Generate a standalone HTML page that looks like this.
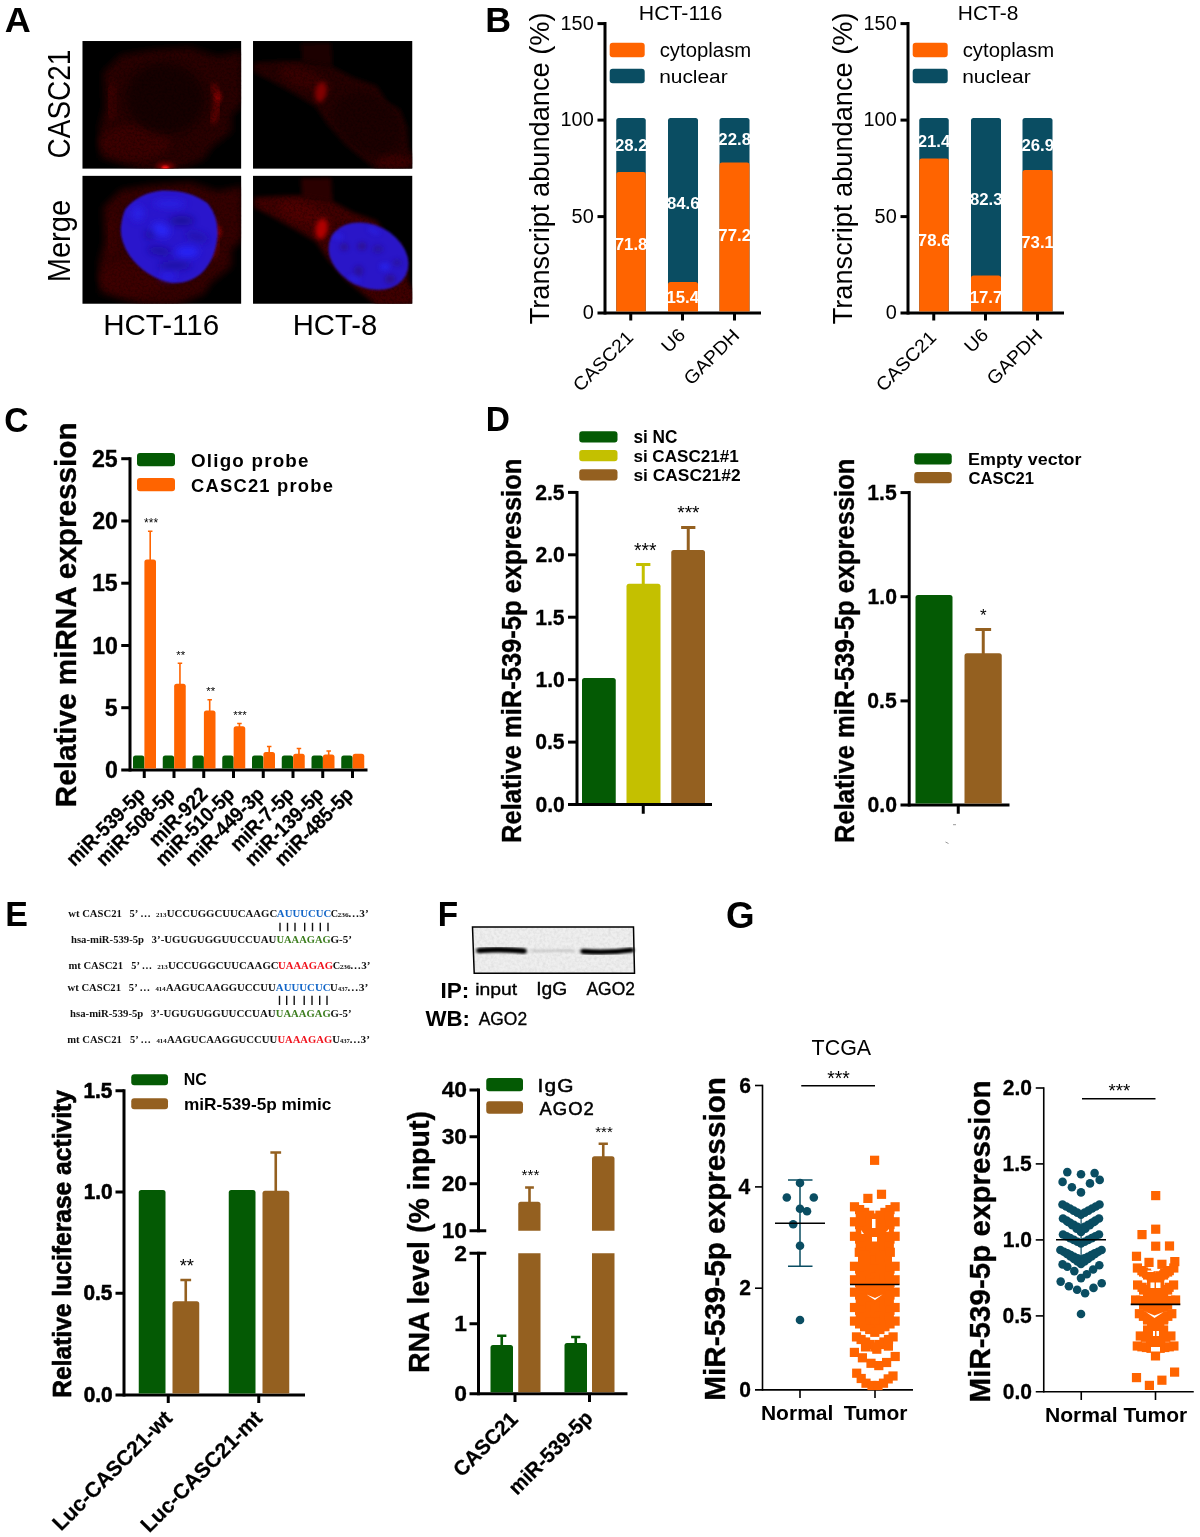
<!DOCTYPE html>
<html lang="en"><head><meta charset="utf-8"><title>Figure</title>
<style>html,body{margin:0;padding:0;background:#fff}svg{display:block}text{white-space:pre}</style></head>
<body><svg width="1200" height="1537" viewBox="0 0 1200 1537"><defs><filter id="b8" x="-30%" y="-30%" width="160%" height="160%"><feGaussianBlur stdDeviation="8"/></filter><filter id="b16" x="-30%" y="-30%" width="160%" height="160%"><feGaussianBlur stdDeviation="16"/></filter><filter id="b28" x="-40%" y="-40%" width="180%" height="180%"><feGaussianBlur stdDeviation="28"/></filter><filter id="grain" x="0" y="0" width="100%" height="100%"><feTurbulence type="fractalNoise" baseFrequency="0.06" numOctaves="2" seed="7"/><feColorMatrix type="matrix" values="0 0 0 0 0  0 0 0 0 0  0 0 0 0 0  1.6 0 0 0 -0.62"/><feComposite in2="SourceGraphic" operator="in"/></filter><clipPath id="cA1"><rect x="18" y="22" width="1154" height="928"/></clipPath><clipPath id="cA3"><rect x="18" y="28" width="1154" height="930"/></clipPath><clipPath id="cA2"><rect x="22" y="22" width="1158" height="928"/></clipPath><clipPath id="cA4"><rect x="22" y="28" width="1158" height="930"/></clipPath><filter id="bl1" x="-20%" y="-100%" width="140%" height="300%"><feGaussianBlur stdDeviation="1.6 1.3"/></filter><filter id="noise" x="0" y="0" width="100%" height="100%"><feTurbulence type="fractalNoise" baseFrequency="0.35" numOctaves="2" seed="4"/><feColorMatrix type="matrix" values="0 0 0 0 0.55  0 0 0 0 0.55  0 0 0 0 0.55  0.9 0.9 0 0 -0.72"/><feComposite in2="SourceGraphic" operator="in"/></filter></defs>
<rect width="1200" height="1537" fill="#fff"/>
<text transform="translate(4.78 32.00) scale(1.0147 1)" font-family='"Liberation Sans", sans-serif' font-size="35.51" font-weight="bold" fill="#000" >A</text>
<g transform="translate(80 38) scale(0.13750)"><rect x="18" y="22" width="1154" height="928" fill="#000"/><g clip-path="url(#cA1)"><path d="M170 250L300 125L520 90L800 70L1000 135L1180 100L1180 480L1100 560L1100 680L950 800L900 880L700 960L450 960L150 870L140 660L180 500Z" fill="#2a0000" filter="url(#b28)"/>
<ellipse cx="400" cy="760" rx="260" ry="130" fill="#400000" filter="url(#b28)" opacity="0.8"/>
<path d="M960 340Q1040 440 960 620" stroke="#580000" stroke-width="60" fill="none" filter="url(#b16)"/>
<ellipse cx="1005" cy="430" rx="22" ry="40" fill="#900000" filter="url(#b16)"/>
<path d="M250 330Q200 450 230 600" stroke="#3a0000" stroke-width="80" fill="none" filter="url(#b28)"/>
<ellipse cx="620" cy="440" rx="290" ry="260" fill="#190000" opacity="0.9" filter="url(#b28)" transform="rotate(12 620 440)"/><path d="M170 250L300 125L520 90L800 70L1000 135L1180 100L1180 480L1100 560L1100 680L950 800L900 880L700 960L450 960L150 870L140 660L180 500Z" fill="#000" filter="url(#grain)" opacity="0.5"/><ellipse cx="620" cy="935" rx="70" ry="30" fill="#700000" filter="url(#b16)"/><ellipse cx="620" cy="945" rx="26" ry="16" fill="#ff1818" filter="url(#b8)"/></g></g>
<g transform="translate(80 172) scale(0.13750)"><rect x="18" y="28" width="1154" height="930" fill="#000"/><g clip-path="url(#cA3)"><g transform="translate(0 6)"><path d="M170 250L300 125L520 90L800 70L1000 135L1180 100L1180 480L1100 560L1100 680L950 800L900 880L700 960L450 960L150 870L140 660L180 500Z" fill="#360000" filter="url(#b28)"/>
<ellipse cx="400" cy="760" rx="260" ry="130" fill="#400000" filter="url(#b28)" opacity="0.8"/>
<path d="M960 340Q1040 440 960 620" stroke="#580000" stroke-width="60" fill="none" filter="url(#b16)"/>
<ellipse cx="1005" cy="430" rx="22" ry="40" fill="#900000" filter="url(#b16)"/>
<path d="M250 330Q200 450 230 600" stroke="#3a0000" stroke-width="80" fill="none" filter="url(#b28)"/>
</g><path d="M170 250L300 125L520 90L800 70L1000 135L1180 100L1180 480L1100 560L1100 680L950 800L900 880L700 960L450 960L150 870L140 660L180 500Z" fill="#000" filter="url(#grain)" opacity="0.4" transform="translate(0 6)"/><path d="M330 270Q430 150 600 135Q800 130 930 230Q1010 330 1000 470Q985 640 880 740Q780 820 660 805Q480 770 360 610Q280 480 300 380Q310 310 330 270Z" fill="#2a16cc" filter="url(#b8)"/>
<g filter="url(#b28)" opacity="0.85"><ellipse cx="590" cy="420" rx="70" ry="45" fill="#2a2aff" transform="rotate(25 590 420)"/><ellipse cx="780" cy="580" rx="85" ry="40" fill="#2626ff"/><ellipse cx="650" cy="230" rx="120" ry="30" fill="#2b20e8"/><ellipse cx="420" cy="300" rx="50" ry="60" fill="#2b20e8"/><ellipse cx="640" cy="760" rx="60" ry="25" fill="#2a22f0"/>
<ellipse cx="740" cy="355" rx="90" ry="35" fill="#1c0e90"/><ellipse cx="510" cy="455" rx="35" ry="30" fill="#1c0e90"/><ellipse cx="580" cy="575" rx="90" ry="30" fill="#1d0f98" transform="rotate(10 580 575)"/><ellipse cx="690" cy="680" rx="120" ry="30" fill="#1e109c"/><ellipse cx="850" cy="470" rx="90" ry="30" fill="#2012a8" transform="rotate(15 850 470)"/></g></g></g>
<g transform="translate(250 38) scale(0.13750)"><rect x="22" y="22" width="1158" height="928" fill="#000"/><g clip-path="url(#cA2)"><path d="M380 170L370 40L590 35L600 210Z" fill="#1c0000" filter="url(#b16)"/><path d="M30 180L200 170L380 165L590 205L750 290L920 350L1000 470L1090 520L1140 650L1150 800L1190 850L1190 960L920 960L700 780L560 620L480 500L330 410L150 310L30 250Z" fill="#260000" filter="url(#b16)"/>
<ellipse cx="400" cy="300" rx="200" ry="70" fill="#3c0000" filter="url(#b28)" transform="rotate(20 400 300)" opacity="0.8"/>
<ellipse cx="1050" cy="900" rx="130" ry="50" fill="#400000" filter="url(#b16)" opacity="0.8"/>
<ellipse cx="860" cy="620" rx="270" ry="200" fill="#1e0000" opacity="0.8" filter="url(#b16)" transform="rotate(32 860 620)"/><path d="M30 180L200 170L380 165L590 205L750 290L920 350L1000 470L1090 520L1140 650L1150 800L1190 850L1190 960L920 960L700 780L560 620L480 500L330 410L150 310L30 250Z" fill="#000" filter="url(#grain)" opacity="0.5"/><ellipse cx="515" cy="395" rx="42" ry="75" fill="#800000" filter="url(#b16)" transform="rotate(10 515 395)"/></g></g>
<g transform="translate(250 172) scale(0.13750)"><rect x="22" y="28" width="1158" height="930" fill="#000"/><g clip-path="url(#cA4)"><g transform="translate(0 6)"><path d="M380 170L370 40L590 35L600 210Z" fill="#2a0000" filter="url(#b16)"/><path d="M30 180L200 170L380 165L590 205L750 290L920 350L1000 470L1090 520L1140 650L1150 800L1190 850L1190 960L920 960L700 780L560 620L480 500L330 410L150 310L30 250Z" fill="#400000" filter="url(#b16)"/>
<ellipse cx="400" cy="300" rx="200" ry="70" fill="#540000" filter="url(#b28)" transform="rotate(20 400 300)" opacity="0.8"/>
<ellipse cx="1050" cy="900" rx="130" ry="50" fill="#400000" filter="url(#b16)" opacity="0.8"/>
<path d="M30 180L200 170L380 165L590 205L750 290L920 350L1000 470L1090 520L1140 650L1150 800L1190 850L1190 960L920 960L700 780L560 620L480 500L330 410L150 310L30 250Z" fill="#000" filter="url(#grain)" opacity="0.5"/></g><ellipse cx="520" cy="415" rx="45" ry="75" fill="#b00000" filter="url(#b16)" transform="rotate(10 520 415)"/><ellipse cx="862" cy="612" rx="305" ry="228" fill="#2a18c8" filter="url(#b8)" transform="rotate(27 862 612)"/>
<g filter="url(#b16)" opacity="0.6"><ellipse cx="685" cy="545" rx="30" ry="28" fill="#30107a"/><ellipse cx="815" cy="540" rx="35" ry="30" fill="#30107a"/><ellipse cx="790" cy="720" rx="35" ry="40" fill="#2c1084"/><ellipse cx="1020" cy="780" rx="40" ry="35" fill="#30107a"/><ellipse cx="1070" cy="660" rx="35" ry="25" fill="#2a1290"/><ellipse cx="930" cy="560" rx="40" ry="30" fill="#2a1290"/>
<ellipse cx="980" cy="690" rx="40" ry="30" fill="#2828f8"/><ellipse cx="640" cy="470" rx="40" ry="25" fill="#2a24e8"/><ellipse cx="900" cy="430" rx="50" ry="20" fill="#2a24e8" transform="rotate(25 900 430)"/><ellipse cx="760" cy="780" rx="50" ry="20" fill="#2a24e8" transform="rotate(20 760 780)"/></g></g></g>
<text transform="translate(69.50 158.40) rotate(-90) scale(0.8952 1)" font-family='"Liberation Sans", sans-serif' font-size="31.21" fill="#000">CASC21</text>
<text transform="translate(69.50 282.33) rotate(-90) scale(0.9132 1)" font-family='"Liberation Sans", sans-serif' font-size="31.88" fill="#000">Merge</text>
<text transform="translate(103.14 334.50) scale(0.9971 1)" font-family='"Liberation Sans", sans-serif' font-size="29.64" fill="#000" >HCT-116</text>
<text transform="translate(292.66 334.50) scale(0.9942 1)" font-family='"Liberation Sans", sans-serif' font-size="29.43" fill="#000" >HCT-8</text>
<text transform="translate(485.17 32.00) scale(1.0075 1)" font-family='"Liberation Sans", sans-serif' font-size="35.51" font-weight="bold" fill="#000" >B</text>
<line x1="605.00" y1="22.10" x2="605.00" y2="314.50" stroke="#000" stroke-width="3" />
<line x1="597.50" y1="313.00" x2="761.00" y2="313.00" stroke="#000" stroke-width="3" />
<line x1="597.50" y1="23.60" x2="605.00" y2="23.60" stroke="#000" stroke-width="3" />
<line x1="597.50" y1="120.10" x2="605.00" y2="120.10" stroke="#000" stroke-width="3" />
<line x1="597.50" y1="216.60" x2="605.00" y2="216.60" stroke="#000" stroke-width="3" />
<line x1="630.75" y1="313.00" x2="630.75" y2="320.50" stroke="#000" stroke-width="3" />
<line x1="682.50" y1="313.00" x2="682.50" y2="320.50" stroke="#000" stroke-width="3" />
<line x1="734.50" y1="313.00" x2="734.50" y2="320.50" stroke="#000" stroke-width="3" />
<text transform="translate(560.51 29.90) scale(0.9600 1)" font-family='"Liberation Sans", sans-serif' font-size="20.74" fill="#000" >150</text>
<text transform="translate(560.51 126.40) scale(0.9600 1)" font-family='"Liberation Sans", sans-serif' font-size="20.74" fill="#000" >100</text>
<text transform="translate(571.58 222.90) scale(0.9600 1)" font-family='"Liberation Sans", sans-serif' font-size="20.74" fill="#000" >50</text>
<text transform="translate(582.65 319.30) scale(0.9600 1)" font-family='"Liberation Sans", sans-serif' font-size="20.74" fill="#000" >0</text>
<text transform="translate(548.80 324.29) rotate(-90) scale(0.9571 1)" font-family='"Liberation Sans", sans-serif' font-size="28.41" fill="#000">Transcript abundance (%)</text>
<text transform="translate(638.80 20.00) scale(1.0274 1)" font-family='"Liberation Sans", sans-serif' font-size="20.71" fill="#000" >HCT-116</text>
<rect x="609.70" y="42.8" width="35" height="14.5" rx="3" fill="#FF6400"/>
<rect x="609.70" y="68.8" width="35" height="14.5" rx="3" fill="#0A4D62"/>
<text transform="translate(659.69 57.00) scale(1.0537 1)" font-family='"Liberation Sans", sans-serif' font-size="19.31" fill="#000" >cytoplasm</text>
<text transform="translate(659.14 82.80) scale(1.1407 1)" font-family='"Liberation Sans", sans-serif' font-size="18.34" fill="#000" >nuclear</text>
<path d="M616.25 311.50V120.50Q616.25 118.00 618.75 118.00H643.25Q645.75 118.00 645.75 120.50V311.50Z" fill="#0A4D62"/>
<path d="M616.25 311.50V174.50Q616.25 172.00 618.75 172.00H643.25Q645.75 172.00 645.75 174.50V311.50Z" fill="#FF6400"/>
<text transform="translate(614.92 151.25) scale(0.9700 1)" font-family='"Liberation Sans", sans-serif' font-size="17.30" font-weight="bold" fill="#fff" >28.2</text>
<text transform="translate(614.75 249.50) scale(0.9700 1)" font-family='"Liberation Sans", sans-serif' font-size="17.30" font-weight="bold" fill="#fff" >71.8</text>
<path d="M668.00 311.50V120.50Q668.00 118.00 670.50 118.00H695.50Q698.00 118.00 698.00 120.50V311.50Z" fill="#0A4D62"/>
<path d="M668.00 311.50V284.50Q668.00 282.00 670.50 282.00H695.50Q698.00 282.00 698.00 284.50V311.50Z" fill="#FF6400"/>
<text transform="translate(666.92 208.75) scale(0.9700 1)" font-family='"Liberation Sans", sans-serif' font-size="17.30" font-weight="bold" fill="#fff" >84.6</text>
<text transform="translate(666.38 303.00) scale(0.9700 1)" font-family='"Liberation Sans", sans-serif' font-size="17.30" font-weight="bold" fill="#fff" >15.4</text>
<path d="M719.50 311.50V120.50Q719.50 118.00 722.00 118.00H747.00Q749.50 118.00 749.50 120.50V311.50Z" fill="#0A4D62"/>
<path d="M719.50 311.50V165.00Q719.50 162.50 722.00 162.50H747.00Q749.50 162.50 749.50 165.00V311.50Z" fill="#FF6400"/>
<text transform="translate(718.34 145.00) scale(0.9700 1)" font-family='"Liberation Sans", sans-serif' font-size="17.30" font-weight="bold" fill="#fff" >22.8</text>
<text transform="translate(718.34 241.25) scale(0.9700 1)" font-family='"Liberation Sans", sans-serif' font-size="17.30" font-weight="bold" fill="#fff" >77.2</text>
<text transform="translate(580.56 392.53) rotate(-45) scale(1.0600 1)" font-family='"Liberation Sans", sans-serif' font-size="18.50" fill="#000">CASC21</text>
<text transform="translate(668.71 353.81) rotate(-45) scale(1.0600 1)" font-family='"Liberation Sans", sans-serif' font-size="18.50" fill="#000">U6</text>
<text transform="translate(691.13 385.90) rotate(-45) scale(1.0600 1)" font-family='"Liberation Sans", sans-serif' font-size="18.50" fill="#000">GAPDH</text>
<line x1="908.00" y1="22.10" x2="908.00" y2="314.50" stroke="#000" stroke-width="3" />
<line x1="900.50" y1="313.00" x2="1064.00" y2="313.00" stroke="#000" stroke-width="3" />
<line x1="900.50" y1="23.60" x2="908.00" y2="23.60" stroke="#000" stroke-width="3" />
<line x1="900.50" y1="120.10" x2="908.00" y2="120.10" stroke="#000" stroke-width="3" />
<line x1="900.50" y1="216.60" x2="908.00" y2="216.60" stroke="#000" stroke-width="3" />
<line x1="933.75" y1="313.00" x2="933.75" y2="320.50" stroke="#000" stroke-width="3" />
<line x1="985.50" y1="313.00" x2="985.50" y2="320.50" stroke="#000" stroke-width="3" />
<line x1="1037.50" y1="313.00" x2="1037.50" y2="320.50" stroke="#000" stroke-width="3" />
<text transform="translate(863.51 29.90) scale(0.9600 1)" font-family='"Liberation Sans", sans-serif' font-size="20.74" fill="#000" >150</text>
<text transform="translate(863.51 126.40) scale(0.9600 1)" font-family='"Liberation Sans", sans-serif' font-size="20.74" fill="#000" >100</text>
<text transform="translate(874.58 222.90) scale(0.9600 1)" font-family='"Liberation Sans", sans-serif' font-size="20.74" fill="#000" >50</text>
<text transform="translate(885.65 319.30) scale(0.9600 1)" font-family='"Liberation Sans", sans-serif' font-size="20.74" fill="#000" >0</text>
<text transform="translate(851.80 324.29) rotate(-90) scale(0.9571 1)" font-family='"Liberation Sans", sans-serif' font-size="28.41" fill="#000">Transcript abundance (%)</text>
<text transform="translate(957.82 20.00) scale(1.0188 1)" font-family='"Liberation Sans", sans-serif' font-size="20.57" fill="#000" >HCT-8</text>
<rect x="912.70" y="42.8" width="35" height="14.5" rx="3" fill="#FF6400"/>
<rect x="912.70" y="68.8" width="35" height="14.5" rx="3" fill="#0A4D62"/>
<text transform="translate(962.69 57.00) scale(1.0537 1)" font-family='"Liberation Sans", sans-serif' font-size="19.31" fill="#000" >cytoplasm</text>
<text transform="translate(962.14 82.80) scale(1.1407 1)" font-family='"Liberation Sans", sans-serif' font-size="18.34" fill="#000" >nuclear</text>
<path d="M919.25 311.50V120.50Q919.25 118.00 921.75 118.00H946.25Q948.75 118.00 948.75 120.50V311.50Z" fill="#0A4D62"/>
<path d="M919.25 311.50V160.90Q919.25 158.40 921.75 158.40H946.25Q948.75 158.40 948.75 160.90V311.50Z" fill="#FF6400"/>
<text transform="translate(917.63 146.50) scale(0.9700 1)" font-family='"Liberation Sans", sans-serif' font-size="17.30" font-weight="bold" fill="#fff" >21.4</text>
<text transform="translate(917.84 245.50) scale(0.9700 1)" font-family='"Liberation Sans", sans-serif' font-size="17.30" font-weight="bold" fill="#fff" >78.6</text>
<path d="M971.00 311.50V120.50Q971.00 118.00 973.50 118.00H998.50Q1001.00 118.00 1001.00 120.50V311.50Z" fill="#0A4D62"/>
<path d="M971.00 311.50V278.00Q971.00 275.50 973.50 275.50H998.50Q1001.00 275.50 1001.00 278.00V311.50Z" fill="#FF6400"/>
<text transform="translate(969.92 204.50) scale(0.9700 1)" font-family='"Liberation Sans", sans-serif' font-size="17.30" font-weight="bold" fill="#fff" >82.3</text>
<text transform="translate(969.71 303.00) scale(0.9700 1)" font-family='"Liberation Sans", sans-serif' font-size="17.30" font-weight="bold" fill="#fff" >17.7</text>
<path d="M1022.50 311.50V120.50Q1022.50 118.00 1025.00 118.00H1050.00Q1052.50 118.00 1052.50 120.50V311.50Z" fill="#0A4D62"/>
<path d="M1022.50 311.50V172.50Q1022.50 170.00 1025.00 170.00H1050.00Q1052.50 170.00 1052.50 172.50V311.50Z" fill="#FF6400"/>
<text transform="translate(1021.42 150.75) scale(0.9700 1)" font-family='"Liberation Sans", sans-serif' font-size="17.30" font-weight="bold" fill="#fff" >26.9</text>
<text transform="translate(1021.25 248.25) scale(0.9700 1)" font-family='"Liberation Sans", sans-serif' font-size="17.30" font-weight="bold" fill="#fff" >73.1</text>
<text transform="translate(883.56 392.53) rotate(-45) scale(1.0600 1)" font-family='"Liberation Sans", sans-serif' font-size="18.50" fill="#000">CASC21</text>
<text transform="translate(971.71 353.81) rotate(-45) scale(1.0600 1)" font-family='"Liberation Sans", sans-serif' font-size="18.50" fill="#000">U6</text>
<text transform="translate(994.13 385.90) rotate(-45) scale(1.0600 1)" font-family='"Liberation Sans", sans-serif' font-size="18.50" fill="#000">GAPDH</text>
<text transform="translate(4.16 432.00) scale(0.9597 1)" font-family='"Liberation Sans", sans-serif' font-size="35.00" font-weight="bold" fill="#000" >C</text>
<line x1="130.00" y1="457.20" x2="130.00" y2="771.50" stroke="#000" stroke-width="3" />
<line x1="121.25" y1="770.00" x2="367.50" y2="770.00" stroke="#000" stroke-width="3" />
<line x1="121.25" y1="458.70" x2="130.00" y2="458.70" stroke="#000" stroke-width="3" />
<line x1="121.25" y1="520.96" x2="130.00" y2="520.96" stroke="#000" stroke-width="3" />
<line x1="121.25" y1="583.20" x2="130.00" y2="583.20" stroke="#000" stroke-width="3" />
<line x1="121.25" y1="645.50" x2="130.00" y2="645.50" stroke="#000" stroke-width="3" />
<line x1="121.25" y1="707.70" x2="130.00" y2="707.70" stroke="#000" stroke-width="3" />
<line x1="144.25" y1="770.00" x2="144.25" y2="778.00" stroke="#000" stroke-width="3" />
<line x1="174.00" y1="770.00" x2="174.00" y2="778.00" stroke="#000" stroke-width="3" />
<line x1="203.75" y1="770.00" x2="203.75" y2="778.00" stroke="#000" stroke-width="3" />
<line x1="233.50" y1="770.00" x2="233.50" y2="778.00" stroke="#000" stroke-width="3" />
<line x1="263.25" y1="770.00" x2="263.25" y2="778.00" stroke="#000" stroke-width="3" />
<line x1="293.00" y1="770.00" x2="293.00" y2="778.00" stroke="#000" stroke-width="3" />
<line x1="322.75" y1="770.00" x2="322.75" y2="778.00" stroke="#000" stroke-width="3" />
<line x1="352.50" y1="770.00" x2="352.50" y2="778.00" stroke="#000" stroke-width="3" />
<text transform="translate(91.90 466.90) scale(0.9600 1)" font-family='"Liberation Sans", sans-serif' font-size="24.16" font-weight="bold" stroke="#000" stroke-width="0.3" stroke-linejoin="round" fill="#000" >25</text>
<text transform="translate(92.14 529.16) scale(0.9600 1)" font-family='"Liberation Sans", sans-serif' font-size="24.16" font-weight="bold" stroke="#000" stroke-width="0.3" stroke-linejoin="round" fill="#000" >20</text>
<text transform="translate(91.90 591.40) scale(0.9600 1)" font-family='"Liberation Sans", sans-serif' font-size="24.16" font-weight="bold" stroke="#000" stroke-width="0.3" stroke-linejoin="round" fill="#000" >15</text>
<text transform="translate(92.14 653.70) scale(0.9600 1)" font-family='"Liberation Sans", sans-serif' font-size="24.16" font-weight="bold" stroke="#000" stroke-width="0.3" stroke-linejoin="round" fill="#000" >10</text>
<text transform="translate(104.81 715.90) scale(0.9600 1)" font-family='"Liberation Sans", sans-serif' font-size="24.16" font-weight="bold" stroke="#000" stroke-width="0.3" stroke-linejoin="round" fill="#000" >5</text>
<text transform="translate(105.04 778.20) scale(0.9600 1)" font-family='"Liberation Sans", sans-serif' font-size="24.16" font-weight="bold" stroke="#000" stroke-width="0.3" stroke-linejoin="round" fill="#000" >0</text>
<text transform="translate(76.10 807.23) rotate(-90) scale(1.0010 1)" font-family='"Liberation Sans", sans-serif' font-size="29.66" font-weight="bold" stroke="#000" stroke-width="0.35" stroke-linejoin="round" fill="#000">Relative miRNA expression</text>
<rect x="137" y="453" width="38" height="13.25" rx="3" fill="#045A04"/>
<rect x="137" y="478" width="38" height="13.25" rx="3" fill="#FF6400"/>
<text transform="translate(191.00 467.10) scale(1.0029 1)" font-family='"Liberation Sans", sans-serif' font-size="18.76" font-weight="bold" fill="#000"  letter-spacing="1.2">Oligo probe</text>
<text transform="translate(191.02 491.50) scale(1.0239 1)" font-family='"Liberation Sans", sans-serif' font-size="17.93" font-weight="bold" fill="#000"  letter-spacing="1.2">CASC21 probe</text>
<path d="M150.20 561.50V531.30M147.95 531.30H152.45" stroke="#FF6400" stroke-width="1.6" fill="none"/>
<path d="M133.00 768.50V758.00Q133.00 755.50 135.50 755.50H141.90Q144.40 755.50 144.40 758.00V768.50Z" fill="#045A04"/>
<path d="M144.40 768.50V562.00Q144.40 559.50 146.90 559.50H153.50Q156.00 559.50 156.00 562.00V768.50Z" fill="#FF6400"/>
<path d="M179.95 685.75V663.30M177.70 663.30H182.20" stroke="#FF6400" stroke-width="1.6" fill="none"/>
<path d="M162.75 768.50V758.00Q162.75 755.50 165.25 755.50H171.65Q174.15 755.50 174.15 758.00V768.50Z" fill="#045A04"/>
<path d="M174.15 768.50V686.25Q174.15 683.75 176.65 683.75H183.25Q185.75 683.75 185.75 686.25V768.50Z" fill="#FF6400"/>
<path d="M209.70 712.50V699.80M207.45 699.80H211.95" stroke="#FF6400" stroke-width="1.6" fill="none"/>
<path d="M192.50 768.50V758.00Q192.50 755.50 195.00 755.50H201.40Q203.90 755.50 203.90 758.00V768.50Z" fill="#045A04"/>
<path d="M203.90 768.50V713.00Q203.90 710.50 206.40 710.50H213.00Q215.50 710.50 215.50 713.00V768.50Z" fill="#FF6400"/>
<path d="M239.45 728.25V723.50M237.20 723.50H241.70" stroke="#FF6400" stroke-width="1.6" fill="none"/>
<path d="M222.25 768.50V758.00Q222.25 755.50 224.75 755.50H231.15Q233.65 755.50 233.65 758.00V768.50Z" fill="#045A04"/>
<path d="M233.65 768.50V728.75Q233.65 726.25 236.15 726.25H242.75Q245.25 726.25 245.25 728.75V768.50Z" fill="#FF6400"/>
<path d="M269.20 754.00V746.50M266.95 746.50H271.45" stroke="#FF6400" stroke-width="1.6" fill="none"/>
<path d="M252.00 768.50V758.00Q252.00 755.50 254.50 755.50H260.90Q263.40 755.50 263.40 758.00V768.50Z" fill="#045A04"/>
<path d="M263.40 768.50V754.50Q263.40 752.00 265.90 752.00H272.50Q275.00 752.00 275.00 754.50V768.50Z" fill="#FF6400"/>
<path d="M298.95 755.75V748.50M296.70 748.50H301.20" stroke="#FF6400" stroke-width="1.6" fill="none"/>
<path d="M281.75 768.50V758.00Q281.75 755.50 284.25 755.50H290.65Q293.15 755.50 293.15 758.00V768.50Z" fill="#045A04"/>
<path d="M293.15 768.50V756.25Q293.15 753.75 295.65 753.75H302.25Q304.75 753.75 304.75 756.25V768.50Z" fill="#FF6400"/>
<path d="M328.70 756.50V751.00M326.45 751.00H330.95" stroke="#FF6400" stroke-width="1.6" fill="none"/>
<path d="M311.50 768.50V758.00Q311.50 755.50 314.00 755.50H320.40Q322.90 755.50 322.90 758.00V768.50Z" fill="#045A04"/>
<path d="M322.90 768.50V757.00Q322.90 754.50 325.40 754.50H332.00Q334.50 754.50 334.50 757.00V768.50Z" fill="#FF6400"/>
<path d="M341.25 768.50V758.00Q341.25 755.50 343.75 755.50H350.15Q352.65 755.50 352.65 758.00V768.50Z" fill="#045A04"/>
<path d="M352.65 768.50V756.25Q352.65 753.75 355.15 753.75H361.75Q364.25 753.75 364.25 756.25V768.50Z" fill="#FF6400"/>
<text x="144.12" y="526.72" font-family='"Liberation Sans", sans-serif' font-size="11.95" fill="#000">***</text>
<text x="176.33" y="658.81" font-family='"Liberation Sans", sans-serif' font-size="11.35" fill="#000">**</text>
<text x="206.33" y="695.31" font-family='"Liberation Sans", sans-serif' font-size="11.35" fill="#000">**</text>
<text x="233.33" y="718.85" font-family='"Liberation Sans", sans-serif' font-size="11.42" fill="#000">***</text>
<text transform="translate(74.61 867.35) rotate(-45) scale(0.9200 1)" font-family='"Liberation Sans", sans-serif' font-size="20.50" font-weight="bold" stroke="#000" stroke-width="0.25" stroke-linejoin="round" fill="#000">miR-539-5p</text>
<text transform="translate(104.36 867.35) rotate(-45) scale(0.9200 1)" font-family='"Liberation Sans", sans-serif' font-size="20.50" font-weight="bold" stroke="#000" stroke-width="0.25" stroke-linejoin="round" fill="#000">miR-508-5p</text>
<text transform="translate(156.95 847.41) rotate(-45) scale(0.9200 1)" font-family='"Liberation Sans", sans-serif' font-size="20.50" font-weight="bold" stroke="#000" stroke-width="0.25" stroke-linejoin="round" fill="#000">miR-922</text>
<text transform="translate(163.86 867.35) rotate(-45) scale(0.9200 1)" font-family='"Liberation Sans", sans-serif' font-size="20.50" font-weight="bold" stroke="#000" stroke-width="0.25" stroke-linejoin="round" fill="#000">miR-510-5p</text>
<text transform="translate(193.61 867.35) rotate(-45) scale(0.9200 1)" font-family='"Liberation Sans", sans-serif' font-size="20.50" font-weight="bold" stroke="#000" stroke-width="0.25" stroke-linejoin="round" fill="#000">miR-449-3p</text>
<text transform="translate(238.19 852.52) rotate(-45) scale(0.9200 1)" font-family='"Liberation Sans", sans-serif' font-size="20.50" font-weight="bold" stroke="#000" stroke-width="0.25" stroke-linejoin="round" fill="#000">miR-7-5p</text>
<text transform="translate(253.11 867.35) rotate(-45) scale(0.9200 1)" font-family='"Liberation Sans", sans-serif' font-size="20.50" font-weight="bold" stroke="#000" stroke-width="0.25" stroke-linejoin="round" fill="#000">miR-139-5p</text>
<text transform="translate(282.86 867.35) rotate(-45) scale(0.9200 1)" font-family='"Liberation Sans", sans-serif' font-size="20.50" font-weight="bold" stroke="#000" stroke-width="0.25" stroke-linejoin="round" fill="#000">miR-485-5p</text>
<text transform="translate(485.82 431.25) scale(0.9723 1)" font-family='"Liberation Sans", sans-serif' font-size="34.42" font-weight="bold" fill="#000" >D</text>
<line x1="577.00" y1="490.90" x2="577.00" y2="806.00" stroke="#000" stroke-width="3" />
<line x1="568.00" y1="804.50" x2="712.00" y2="804.50" stroke="#000" stroke-width="3" />
<line x1="568.00" y1="492.40" x2="577.00" y2="492.40" stroke="#000" stroke-width="3" />
<line x1="568.00" y1="554.80" x2="577.00" y2="554.80" stroke="#000" stroke-width="3" />
<line x1="568.00" y1="617.20" x2="577.00" y2="617.20" stroke="#000" stroke-width="3" />
<line x1="568.00" y1="679.70" x2="577.00" y2="679.70" stroke="#000" stroke-width="3" />
<line x1="568.00" y1="742.10" x2="577.00" y2="742.10" stroke="#000" stroke-width="3" />
<line x1="643.25" y1="804.50" x2="643.25" y2="813.75" stroke="#000" stroke-width="3" />
<text transform="translate(535.16 499.70) scale(0.9300 1)" font-family='"Liberation Sans", sans-serif' font-size="22.81" font-weight="bold" stroke="#000" stroke-width="0.3" stroke-linejoin="round" fill="#000" >2.5</text>
<text transform="translate(535.38 562.10) scale(0.9300 1)" font-family='"Liberation Sans", sans-serif' font-size="22.81" font-weight="bold" stroke="#000" stroke-width="0.3" stroke-linejoin="round" fill="#000" >2.0</text>
<text transform="translate(535.16 624.50) scale(0.9300 1)" font-family='"Liberation Sans", sans-serif' font-size="22.81" font-weight="bold" stroke="#000" stroke-width="0.3" stroke-linejoin="round" fill="#000" >1.5</text>
<text transform="translate(535.38 687.00) scale(0.9300 1)" font-family='"Liberation Sans", sans-serif' font-size="22.81" font-weight="bold" stroke="#000" stroke-width="0.3" stroke-linejoin="round" fill="#000" >1.0</text>
<text transform="translate(535.16 749.40) scale(0.9300 1)" font-family='"Liberation Sans", sans-serif' font-size="22.81" font-weight="bold" stroke="#000" stroke-width="0.3" stroke-linejoin="round" fill="#000" >0.5</text>
<text transform="translate(535.38 811.80) scale(0.9300 1)" font-family='"Liberation Sans", sans-serif' font-size="22.81" font-weight="bold" stroke="#000" stroke-width="0.3" stroke-linejoin="round" fill="#000" >0.0</text>
<text transform="translate(521.25 842.91) rotate(-90) scale(0.9253 1)" font-family='"Liberation Sans", sans-serif' font-size="27.59" font-weight="bold" stroke="#000" stroke-width="0.35" stroke-linejoin="round" fill="#000">Relative miR-539-5p expression</text>
<rect x="579.25" y="431.25" width="38.25" height="11.25" rx="3" fill="#045A04"/>
<rect x="579.25" y="450" width="38.25" height="11.25" rx="3" fill="#C4C000"/>
<rect x="579.25" y="469.25" width="38.25" height="11.25" rx="3" fill="#946020"/>
<text transform="translate(633.40 443.00) scale(0.9615 1)" font-family='"Liberation Sans", sans-serif' font-size="17.93" font-weight="bold" fill="#000" >si NC</text>
<text transform="translate(633.40 461.70) scale(1.0146 1)" font-family='"Liberation Sans", sans-serif' font-size="16.83" font-weight="bold" fill="#000" >si CASC21#1</text>
<text transform="translate(633.39 480.60) scale(1.0001 1)" font-family='"Liberation Sans", sans-serif' font-size="17.38" font-weight="bold" fill="#000" >si CASC21#2</text>
<path d="M643.25 586.00V564.50M636.12 564.50H650.38" stroke="#C4C000" stroke-width="3" fill="none"/>
<path d="M688.25 552.00V527.50M681.12 527.50H695.38" stroke="#946020" stroke-width="3" fill="none"/>
<path d="M582.00 803.00V680.50Q582.00 678.00 584.50 678.00H613.25Q615.75 678.00 615.75 680.50V803.00Z" fill="#045A04"/>
<path d="M626.50 803.00V586.25Q626.50 583.75 629.00 583.75H658.00Q660.50 583.75 660.50 586.25V803.00Z" fill="#C4C000"/>
<path d="M671.25 803.00V552.50Q671.25 550.00 673.75 550.00H702.50Q705.00 550.00 705.00 552.50V803.00Z" fill="#946020"/>
<text x="633.96" y="556.90" font-family='"Liberation Sans", sans-serif' font-size="19.33" fill="#000">***</text>
<text x="677.21" y="519.29" font-family='"Liberation Sans", sans-serif' font-size="19.11" fill="#000">***</text>
<line x1="909.20" y1="491.10" x2="909.20" y2="806.50" stroke="#000" stroke-width="3" />
<line x1="900.50" y1="805.00" x2="1009.50" y2="805.00" stroke="#000" stroke-width="3" />
<line x1="900.50" y1="492.60" x2="909.20" y2="492.60" stroke="#000" stroke-width="3" />
<line x1="900.50" y1="596.70" x2="909.20" y2="596.70" stroke="#000" stroke-width="3" />
<line x1="900.50" y1="700.90" x2="909.20" y2="700.90" stroke="#000" stroke-width="3" />
<line x1="958.25" y1="805.00" x2="958.25" y2="813.75" stroke="#000" stroke-width="3" />
<text transform="translate(867.26 499.90) scale(0.9300 1)" font-family='"Liberation Sans", sans-serif' font-size="22.81" font-weight="bold" stroke="#000" stroke-width="0.3" stroke-linejoin="round" fill="#000" >1.5</text>
<text transform="translate(867.48 604.00) scale(0.9300 1)" font-family='"Liberation Sans", sans-serif' font-size="22.81" font-weight="bold" stroke="#000" stroke-width="0.3" stroke-linejoin="round" fill="#000" >1.0</text>
<text transform="translate(867.26 708.20) scale(0.9300 1)" font-family='"Liberation Sans", sans-serif' font-size="22.81" font-weight="bold" stroke="#000" stroke-width="0.3" stroke-linejoin="round" fill="#000" >0.5</text>
<text transform="translate(867.48 812.30) scale(0.9300 1)" font-family='"Liberation Sans", sans-serif' font-size="22.81" font-weight="bold" stroke="#000" stroke-width="0.3" stroke-linejoin="round" fill="#000" >0.0</text>
<text transform="translate(853.75 842.91) rotate(-90) scale(0.9253 1)" font-family='"Liberation Sans", sans-serif' font-size="27.59" font-weight="bold" stroke="#000" stroke-width="0.35" stroke-linejoin="round" fill="#000">Relative miR-539-5p expression</text>
<rect x="914.25" y="453.25" width="37.5" height="11.25" rx="3" fill="#045A04"/>
<rect x="914.25" y="472" width="37.5" height="11.25" rx="3" fill="#946020"/>
<text transform="translate(968.09 465.00) scale(1.0513 1)" font-family='"Liberation Sans", sans-serif' font-size="17.03" font-weight="bold" fill="#000" >Empty vector</text>
<text transform="translate(968.58 483.75) scale(1.0345 1)" font-family='"Liberation Sans", sans-serif' font-size="16.07" font-weight="bold" fill="#000" >CASC21</text>
<path d="M983.25 655.00V629.50M975.38 629.50H991.12" stroke="#946020" stroke-width="3" fill="none"/>
<path d="M915.50 803.50V597.50Q915.50 595.00 918.00 595.00H950.00Q952.50 595.00 952.50 597.50V803.50Z" fill="#045A04"/>
<path d="M964.50 803.50V655.75Q964.50 653.25 967.00 653.25H999.25Q1001.75 653.25 1001.75 655.75V803.50Z" fill="#946020"/>
<text x="979.93" y="620.71" font-family='"Liberation Sans", sans-serif' font-size="17.00" fill="#000">*</text>
<path d="M953 824.7h3M945.5 842l3 1.5" stroke="#999" stroke-width="1" fill="none"/>
<text transform="translate(5.29 926.30) scale(0.9532 1)" font-family='"Liberation Sans", sans-serif' font-size="35.65" font-weight="bold" fill="#000" >E</text>
<text transform="translate(68.30 917.20) scale(0.9626 1)" font-family='"Liberation Serif", serif' font-size="11.06" font-weight="bold" fill="#111" >wt CASC21</text>
<text transform="translate(129.58 917.20) scale(0.9653 1)" font-family='"Liberation Serif", serif' font-size="10.98" font-weight="bold" fill="#111" >5’ …</text>
<text transform="translate(156.02 917.20) scale(1.0197 1)" font-family='"Liberation Serif", serif' font-size="6.86" font-weight="bold" fill="#111" >213</text>
<text transform="translate(166.68 917.20) scale(0.9729 1)" font-family='"Liberation Serif", serif' font-size="11.06" font-weight="bold" fill="#111" >UCCUGGCUUCAAGC</text>
<text transform="translate(276.85 917.20) scale(0.9753 1)" font-family='"Liberation Serif", serif' font-size="11.06" font-weight="bold" fill="#1467C8" >AUUUCUC</text>
<text transform="translate(330.75 917.20) scale(0.9116 1)" font-family='"Liberation Serif", serif' font-size="11.06" font-weight="bold" fill="#111" >C</text>
<text transform="translate(337.50 917.20) scale(1.0873 1)" font-family='"Liberation Serif", serif' font-size="6.86" font-weight="bold" fill="#111" >236</text>
<text transform="translate(348.10 917.20) scale(1.0272 1)" font-family='"Liberation Serif", serif' font-size="10.98" font-weight="bold" fill="#111" >…3’</text>
<text transform="translate(70.99 943.30) scale(1.0111 1)" font-family='"Liberation Serif", serif' font-size="10.58" font-weight="bold" fill="#111" >hsa-miR-539-5p</text>
<text transform="translate(151.62 943.30) scale(0.9896 1)" font-family='"Liberation Serif", serif' font-size="10.98" font-weight="bold" fill="#111" >3’-UGUGUGGUUCCUAU</text>
<text transform="translate(276.39 943.30) scale(0.9529 1)" font-family='"Liberation Serif", serif' font-size="11.06" font-weight="bold" fill="#3C7D1E" >UAAAGAG</text>
<text transform="translate(330.50 943.30) scale(1.0101 1)" font-family='"Liberation Serif", serif' font-size="10.98" font-weight="bold" fill="#111" >G-5’</text>
<text transform="translate(68.43 968.70) scale(0.9606 1)" font-family='"Liberation Serif", serif' font-size="11.06" font-weight="bold" fill="#111" >mt CASC21</text>
<text transform="translate(131.29 968.70) scale(0.9420 1)" font-family='"Liberation Serif", serif' font-size="10.98" font-weight="bold" fill="#111" >5’ …</text>
<text transform="translate(157.22 968.70) scale(1.0299 1)" font-family='"Liberation Serif", serif' font-size="6.86" font-weight="bold" fill="#111" >213</text>
<text transform="translate(167.98 968.70) scale(0.9729 1)" font-family='"Liberation Serif", serif' font-size="11.06" font-weight="bold" fill="#111" >UCCUGGCUUCAAGC</text>
<text transform="translate(277.99 968.70) scale(0.9635 1)" font-family='"Liberation Serif", serif' font-size="11.06" font-weight="bold" fill="#F0141E" >UAAAGAG</text>
<text transform="translate(332.84 968.70) scale(0.9265 1)" font-family='"Liberation Serif", serif' font-size="11.06" font-weight="bold" fill="#111" >C</text>
<text transform="translate(339.71 968.70) scale(1.0670 1)" font-family='"Liberation Serif", serif' font-size="6.86" font-weight="bold" fill="#111" >236</text>
<text transform="translate(350.11 968.70) scale(1.0110 1)" font-family='"Liberation Serif", serif' font-size="10.98" font-weight="bold" fill="#111" >…3’</text>
<text transform="translate(67.50 990.80) scale(0.9626 1)" font-family='"Liberation Serif", serif' font-size="11.06" font-weight="bold" fill="#111" >wt CASC21</text>
<text transform="translate(128.87 990.80) scale(0.9699 1)" font-family='"Liberation Serif", serif' font-size="10.98" font-weight="bold" fill="#111" >5’ …</text>
<text transform="translate(155.43 990.80) scale(0.9886 1)" font-family='"Liberation Serif", serif' font-size="6.86" font-weight="bold" fill="#111" >414</text>
<text transform="translate(165.95 990.80) scale(0.9658 1)" font-family='"Liberation Serif", serif' font-size="11.06" font-weight="bold" fill="#111" >AAGUCAAGGUCCUU</text>
<text transform="translate(275.85 990.80) scale(0.9789 1)" font-family='"Liberation Serif", serif' font-size="11.06" font-weight="bold" fill="#1467C8" >AUUUCUC</text>
<text transform="translate(330.09 990.80) scale(0.9500 1)" font-family='"Liberation Serif", serif' font-size="11.15" font-weight="bold" fill="#111" >U</text>
<text transform="translate(337.94 990.80) scale(0.9424 1)" font-family='"Liberation Serif", serif' font-size="6.86" font-weight="bold" fill="#111" >437</text>
<text transform="translate(347.07 990.80) scale(1.0542 1)" font-family='"Liberation Serif", serif' font-size="10.98" font-weight="bold" fill="#111" >…3’</text>
<text transform="translate(70.09 1017.00) scale(1.0139 1)" font-family='"Liberation Serif", serif' font-size="10.58" font-weight="bold" fill="#111" >hsa-miR-539-5p</text>
<text transform="translate(150.82 1017.00) scale(0.9896 1)" font-family='"Liberation Serif", serif' font-size="10.98" font-weight="bold" fill="#111" >3’-UGUGUGGUUCCUAU</text>
<text transform="translate(275.69 1017.00) scale(0.9635 1)" font-family='"Liberation Serif", serif' font-size="11.06" font-weight="bold" fill="#3C7D1E" >UAAAGAG</text>
<text transform="translate(330.51 1017.00) scale(0.9852 1)" font-family='"Liberation Serif", serif' font-size="10.98" font-weight="bold" fill="#111" >G-5’</text>
<text transform="translate(67.23 1042.50) scale(0.9606 1)" font-family='"Liberation Serif", serif' font-size="11.06" font-weight="bold" fill="#111" >mt CASC21</text>
<text transform="translate(130.08 1042.50) scale(0.9513 1)" font-family='"Liberation Serif", serif' font-size="10.98" font-weight="bold" fill="#111" >5’ …</text>
<text transform="translate(156.43 1042.50) scale(0.9886 1)" font-family='"Liberation Serif", serif' font-size="6.86" font-weight="bold" fill="#111" >414</text>
<text transform="translate(166.95 1042.50) scale(0.9720 1)" font-family='"Liberation Serif", serif' font-size="11.06" font-weight="bold" fill="#111" >AAGUCAAGGUCCUU</text>
<text transform="translate(277.39 1042.50) scale(0.9599 1)" font-family='"Liberation Serif", serif' font-size="11.06" font-weight="bold" fill="#F0141E" >UAAAGAG</text>
<text transform="translate(332.29 1042.50) scale(0.9500 1)" font-family='"Liberation Serif", serif' font-size="11.15" font-weight="bold" fill="#111" >U</text>
<text transform="translate(339.93 1042.50) scale(0.9622 1)" font-family='"Liberation Serif", serif' font-size="6.86" font-weight="bold" fill="#111" >437</text>
<text transform="translate(349.30 1042.50) scale(1.0272 1)" font-family='"Liberation Serif", serif' font-size="10.98" font-weight="bold" fill="#111" >…3’</text>
<line x1="280.00" y1="922.80" x2="280.00" y2="931.30" stroke="#111" stroke-width="1.4" />
<line x1="287.50" y1="922.80" x2="287.50" y2="931.30" stroke="#111" stroke-width="1.4" />
<line x1="295.00" y1="922.80" x2="295.00" y2="931.30" stroke="#111" stroke-width="1.4" />
<line x1="304.70" y1="922.80" x2="304.70" y2="931.30" stroke="#111" stroke-width="1.4" />
<line x1="312.50" y1="922.80" x2="312.50" y2="931.30" stroke="#111" stroke-width="1.4" />
<line x1="320.30" y1="922.80" x2="320.30" y2="931.30" stroke="#111" stroke-width="1.4" />
<line x1="328.00" y1="922.80" x2="328.00" y2="931.30" stroke="#111" stroke-width="1.4" />
<line x1="279.50" y1="995.80" x2="279.50" y2="1005.00" stroke="#111" stroke-width="1.4" />
<line x1="286.70" y1="995.80" x2="286.70" y2="1005.00" stroke="#111" stroke-width="1.4" />
<line x1="294.20" y1="995.80" x2="294.20" y2="1005.00" stroke="#111" stroke-width="1.4" />
<line x1="304.20" y1="995.80" x2="304.20" y2="1005.00" stroke="#111" stroke-width="1.4" />
<line x1="312.00" y1="995.80" x2="312.00" y2="1005.00" stroke="#111" stroke-width="1.4" />
<line x1="319.70" y1="995.80" x2="319.70" y2="1005.00" stroke="#111" stroke-width="1.4" />
<line x1="327.00" y1="995.80" x2="327.00" y2="1005.00" stroke="#111" stroke-width="1.4" />
<line x1="124.00" y1="1089.25" x2="124.00" y2="1396.50" stroke="#000" stroke-width="3" />
<line x1="115.50" y1="1395.00" x2="305.00" y2="1395.00" stroke="#000" stroke-width="3" />
<line x1="115.50" y1="1090.75" x2="124.00" y2="1090.75" stroke="#000" stroke-width="3" />
<line x1="115.50" y1="1192.00" x2="124.00" y2="1192.00" stroke="#000" stroke-width="3" />
<line x1="115.50" y1="1293.25" x2="124.00" y2="1293.25" stroke="#000" stroke-width="3" />
<line x1="168.25" y1="1395.00" x2="168.25" y2="1403.00" stroke="#000" stroke-width="3" />
<line x1="258.75" y1="1395.00" x2="258.75" y2="1403.00" stroke="#000" stroke-width="3" />
<text transform="translate(83.45 1097.95) scale(0.9600 1)" font-family='"Liberation Sans", sans-serif' font-size="21.65" font-weight="bold" stroke="#000" stroke-width="0.6" stroke-linejoin="round" fill="#000" >1.5</text>
<text transform="translate(83.66 1199.20) scale(0.9600 1)" font-family='"Liberation Sans", sans-serif' font-size="21.65" font-weight="bold" stroke="#000" stroke-width="0.6" stroke-linejoin="round" fill="#000" >1.0</text>
<text transform="translate(83.45 1300.45) scale(0.9600 1)" font-family='"Liberation Sans", sans-serif' font-size="21.65" font-weight="bold" stroke="#000" stroke-width="0.6" stroke-linejoin="round" fill="#000" >0.5</text>
<text transform="translate(83.66 1402.20) scale(0.9600 1)" font-family='"Liberation Sans", sans-serif' font-size="21.65" font-weight="bold" stroke="#000" stroke-width="0.6" stroke-linejoin="round" fill="#000" >0.0</text>
<text transform="translate(71.00 1397.85) rotate(-90) scale(0.9647 1)" font-family='"Liberation Sans", sans-serif' font-size="25.52" font-weight="bold" stroke="#000" stroke-width="0.7" stroke-linejoin="round" fill="#000">Relative luciferase activity</text>
<rect x="131.25" y="1074.25" width="36.75" height="11" rx="3" fill="#045A04"/>
<rect x="131.25" y="1098.25" width="36.75" height="11" rx="3" fill="#946020"/>
<text transform="translate(183.66 1085.20) scale(0.9375 1)" font-family='"Liberation Sans", sans-serif' font-size="17.00" font-weight="bold" fill="#000" >NC</text>
<text transform="translate(183.88 1109.60) scale(1.1063 1)" font-family='"Liberation Sans", sans-serif' font-size="15.59" font-weight="bold" fill="#000" >miR-539-5p mimic</text>
<path d="M185.75 1303.00V1280.00M180.38 1280.00H191.12" stroke="#946020" stroke-width="2.6" fill="none"/>
<path d="M275.75 1193.00V1152.50M270.38 1152.50H281.12" stroke="#946020" stroke-width="2.6" fill="none"/>
<path d="M138.75 1393.50V1192.50Q138.75 1190.00 141.25 1190.00H163.00Q165.50 1190.00 165.50 1192.50V1393.50Z" fill="#045A04"/>
<path d="M172.50 1393.50V1303.75Q172.50 1301.25 175.00 1301.25H196.75Q199.25 1301.25 199.25 1303.75V1393.50Z" fill="#946020"/>
<path d="M228.75 1393.50V1192.50Q228.75 1190.00 231.25 1190.00H253.00Q255.50 1190.00 255.50 1192.50V1393.50Z" fill="#045A04"/>
<path d="M262.50 1393.50V1193.25Q262.50 1190.75 265.00 1190.75H286.75Q289.25 1190.75 289.25 1193.25V1393.50Z" fill="#946020"/>
<text x="179.72" y="1272.41" font-family='"Liberation Sans", sans-serif' font-size="18.35" fill="#000">**</text>
<text transform="translate(61.03 1531.81) rotate(-45) scale(1.0000 1)" font-family='"Liberation Sans", sans-serif' font-size="21.20" font-weight="bold" stroke="#000" stroke-width="0.25" stroke-linejoin="round" fill="#000">Luc-CASC21-wt</text>
<text transform="translate(149.36 1533.48) rotate(-45) scale(1.0000 1)" font-family='"Liberation Sans", sans-serif' font-size="21.20" font-weight="bold" stroke="#000" stroke-width="0.25" stroke-linejoin="round" fill="#000">Luc-CASC21-mt</text>
<text transform="translate(437.83 926.25) scale(0.9553 1)" font-family='"Liberation Sans", sans-serif' font-size="34.89" font-weight="bold" fill="#000" >F</text>
<path d="M472.5 927L633.5 927L634.5 973.2L474.2 973.2Z" fill="#EFEFEF"/>
<path d="M472.5 927L633.5 927L634.5 973.2L474.2 973.2Z" fill="#000" filter="url(#noise)" opacity="0.55"/>
<g filter="url(#bl1)"><path d="M479 950.5Q500 948.8 524 951" stroke="#000" stroke-width="5.6" stroke-linecap="round" fill="none"/><path d="M583 951.3Q608 953.2 631.5 950" stroke="#000" stroke-width="5.2" stroke-linecap="round" fill="none"/><path d="M531 950.7H575" stroke="#9a9a9a" stroke-width="2.5" fill="none" opacity="0.45"/></g>
<path d="M472.5 927L633.5 927L634.5 973.2L474.2 973.2Z" fill="none" stroke="#000" stroke-width="1.5"/>
<text transform="translate(440.53 997.50) scale(1.0065 1)" font-family='"Liberation Sans", sans-serif' font-size="22.45" font-weight="bold" fill="#000" >IP:</text>
<text transform="translate(475.24 995.10) scale(1.1420 1)" font-family='"Liberation Sans", sans-serif' font-size="16.97" fill="#000" stroke="#000" stroke-width="0.35">input</text>
<text transform="translate(536.17 995.10) scale(1.0958 1)" font-family='"Liberation Sans", sans-serif' font-size="17.57" fill="#000" stroke="#000" stroke-width="0.35">IgG</text>
<text transform="translate(586.50 995.10) scale(0.9913 1)" font-family='"Liberation Sans", sans-serif' font-size="17.57" fill="#000" stroke="#000" stroke-width="0.35">AGO2</text>
<text transform="translate(425.50 1025.90) scale(1.0502 1)" font-family='"Liberation Sans", sans-serif' font-size="21.23" font-weight="bold" fill="#000" >WB:</text>
<text transform="translate(478.70 1025.00) scale(0.9755 1)" font-family='"Liberation Sans", sans-serif' font-size="17.86" fill="#000" stroke="#000" stroke-width="0.35">AGO2</text>
<line x1="478.50" y1="1088.50" x2="478.50" y2="1232.25" stroke="#000" stroke-width="3" />
<line x1="469.50" y1="1090.00" x2="478.50" y2="1090.00" stroke="#000" stroke-width="3" />
<line x1="469.50" y1="1136.75" x2="478.50" y2="1136.75" stroke="#000" stroke-width="3" />
<line x1="469.50" y1="1183.75" x2="478.50" y2="1183.75" stroke="#000" stroke-width="3" />
<line x1="469.50" y1="1230.75" x2="486.25" y2="1230.75" stroke="#000" stroke-width="3" />
<line x1="478.50" y1="1251.75" x2="478.50" y2="1395.25" stroke="#000" stroke-width="3" />
<line x1="469.50" y1="1253.25" x2="486.25" y2="1253.25" stroke="#000" stroke-width="3" />
<line x1="469.50" y1="1323.75" x2="478.50" y2="1323.75" stroke="#000" stroke-width="3" />
<line x1="469.50" y1="1393.75" x2="627.50" y2="1393.75" stroke="#000" stroke-width="3" />
<line x1="515.00" y1="1393.75" x2="515.00" y2="1402.00" stroke="#000" stroke-width="3" />
<line x1="589.50" y1="1393.75" x2="589.50" y2="1402.00" stroke="#000" stroke-width="3" />
<text transform="translate(441.66 1097.40) scale(1.0000 1)" font-family='"Liberation Sans", sans-serif' font-size="22.85" font-weight="bold" stroke="#000" stroke-width="0.3" stroke-linejoin="round" fill="#000" >40</text>
<text transform="translate(441.66 1144.15) scale(1.0000 1)" font-family='"Liberation Sans", sans-serif' font-size="22.85" font-weight="bold" stroke="#000" stroke-width="0.3" stroke-linejoin="round" fill="#000" >30</text>
<text transform="translate(441.66 1191.15) scale(1.0000 1)" font-family='"Liberation Sans", sans-serif' font-size="22.85" font-weight="bold" stroke="#000" stroke-width="0.3" stroke-linejoin="round" fill="#000" >20</text>
<text transform="translate(441.66 1238.15) scale(1.0000 1)" font-family='"Liberation Sans", sans-serif' font-size="22.85" font-weight="bold" stroke="#000" stroke-width="0.3" stroke-linejoin="round" fill="#000" >10</text>
<text transform="translate(454.37 1260.65) scale(1.0000 1)" font-family='"Liberation Sans", sans-serif' font-size="22.85" font-weight="bold" stroke="#000" stroke-width="0.3" stroke-linejoin="round" fill="#000" >2</text>
<text transform="translate(454.14 1331.15) scale(1.0000 1)" font-family='"Liberation Sans", sans-serif' font-size="22.85" font-weight="bold" stroke="#000" stroke-width="0.3" stroke-linejoin="round" fill="#000" >1</text>
<text transform="translate(454.37 1401.15) scale(1.0000 1)" font-family='"Liberation Sans", sans-serif' font-size="22.85" font-weight="bold" stroke="#000" stroke-width="0.3" stroke-linejoin="round" fill="#000" >0</text>
<text transform="translate(428.50 1373.11) rotate(-90) scale(0.9901 1)" font-family='"Liberation Sans", sans-serif' font-size="28.83" font-weight="bold" stroke="#000" stroke-width="0.35" stroke-linejoin="round" fill="#000">RNA level (% input)</text>
<rect x="486.25" y="1078" width="36.75" height="13.25" rx="3" fill="#045A04"/>
<rect x="486.25" y="1101.25" width="36.75" height="12.5" rx="3" fill="#946020"/>
<text transform="translate(537.62 1092.00) scale(1.1044 1)" font-family='"Liberation Sans", sans-serif' font-size="18.93" fill="#000" stroke="#000" stroke-width="0.5" letter-spacing="1">IgG</text>
<text transform="translate(539.50 1115.00) scale(0.9954 1)" font-family='"Liberation Sans", sans-serif' font-size="18.57" fill="#000" stroke="#000" stroke-width="0.5" letter-spacing="1">AGO2</text>
<path d="M529.50 1204.00V1187.50M525.12 1187.50H533.88" stroke="#946020" stroke-width="2.6" fill="none"/>
<path d="M603.25 1158.00V1143.75M598.62 1143.75H607.88" stroke="#946020" stroke-width="2.6" fill="none"/>
<path d="M501.75 1347.00V1335.75M497.12 1335.75H506.38" stroke="#045A04" stroke-width="2.6" fill="none"/>
<path d="M575.75 1345.00V1337.00M571.12 1337.00H580.38" stroke="#045A04" stroke-width="2.6" fill="none"/>
<path d="M518.25 1230.75V1204.25Q518.25 1201.75 520.75 1201.75H538.00Q540.50 1201.75 540.50 1204.25V1230.75Z" fill="#946020"/>
<path d="M592.00 1230.75V1158.75Q592.00 1156.25 594.50 1156.25H612.00Q614.50 1156.25 614.50 1158.75V1230.75Z" fill="#946020"/>
<rect x="518.25" y="1253.25" width="22.25" height="139.00" fill="#946020" />
<rect x="592.00" y="1253.25" width="22.50" height="139.00" fill="#946020" />
<path d="M490.50 1392.25V1347.50Q490.50 1345.00 493.00 1345.00H510.50Q513.00 1345.00 513.00 1347.50V1392.25Z" fill="#045A04"/>
<path d="M564.50 1392.25V1345.50Q564.50 1343.00 567.00 1343.00H584.50Q587.00 1343.00 587.00 1345.50V1392.25Z" fill="#045A04"/>
<text x="521.52" y="1180.38" font-family='"Liberation Sans", sans-serif' font-size="15.37" fill="#000">***</text>
<text x="595.28" y="1137.15" font-family='"Liberation Sans", sans-serif' font-size="14.93" fill="#000">***</text>
<text transform="translate(461.81 1477.93) rotate(-45) scale(0.9800 1)" font-family='"Liberation Sans", sans-serif' font-size="21.00" font-weight="bold" stroke="#000" stroke-width="0.25" stroke-linejoin="round" fill="#000">CASC21</text>
<text transform="translate(517.12 1496.03) rotate(-45) scale(0.9600 1)" font-family='"Liberation Sans", sans-serif' font-size="21.00" font-weight="bold" stroke="#000" stroke-width="0.25" stroke-linejoin="round" fill="#000">miR-539-5p</text>
<text transform="translate(726.03 927.50) scale(0.9804 1)" font-family='"Liberation Sans", sans-serif' font-size="37.50" font-weight="bold" fill="#000" >G</text>
<text transform="translate(811.57 1055.00) scale(1.0015 1)" font-family='"Liberation Sans", sans-serif' font-size="21.43" fill="#000" >TCGA</text>
<line x1="762.50" y1="1084.70" x2="762.50" y2="1390.70" stroke="#000" stroke-width="1.6" />
<line x1="755.00" y1="1389.90" x2="913.00" y2="1389.90" stroke="#000" stroke-width="1.6" />
<line x1="755.00" y1="1085.50" x2="762.50" y2="1085.50" stroke="#000" stroke-width="1.6" />
<line x1="755.00" y1="1186.90" x2="762.50" y2="1186.90" stroke="#000" stroke-width="1.6" />
<line x1="755.00" y1="1288.20" x2="762.50" y2="1288.20" stroke="#000" stroke-width="1.6" />
<line x1="800.00" y1="1389.50" x2="800.00" y2="1398.00" stroke="#000" stroke-width="1.6" />
<line x1="875.00" y1="1389.50" x2="875.00" y2="1398.00" stroke="#000" stroke-width="1.6" />
<text transform="translate(739.25 1092.70) scale(0.9570 1)" font-family='"Liberation Sans", sans-serif' font-size="22.00" font-weight="bold" stroke="#000" stroke-width="0.3" stroke-linejoin="round" fill="#000" >6</text>
<text transform="translate(738.52 1194.10) scale(0.9570 1)" font-family='"Liberation Sans", sans-serif' font-size="22.00" font-weight="bold" stroke="#000" stroke-width="0.3" stroke-linejoin="round" fill="#000" >4</text>
<text transform="translate(739.25 1295.40) scale(0.9570 1)" font-family='"Liberation Sans", sans-serif' font-size="22.00" font-weight="bold" stroke="#000" stroke-width="0.3" stroke-linejoin="round" fill="#000" >2</text>
<text transform="translate(739.25 1397.10) scale(0.9570 1)" font-family='"Liberation Sans", sans-serif' font-size="22.00" font-weight="bold" stroke="#000" stroke-width="0.3" stroke-linejoin="round" fill="#000" >0</text>
<text transform="translate(725.40 1400.68) rotate(-90) scale(1.0212 1)" font-family='"Liberation Sans", sans-serif' font-size="29.10" font-weight="bold" stroke="#000" stroke-width="0.35" stroke-linejoin="round" fill="#000">MiR-539-5p expression</text>
<text transform="translate(760.93 1419.90) scale(1.0238 1)" font-family='"Liberation Sans", sans-serif' font-size="20.55" font-weight="bold" fill="#000" >Normal</text>
<text transform="translate(843.69 1419.90) scale(1.0284 1)" font-family='"Liberation Sans", sans-serif' font-size="20.43" font-weight="bold" fill="#000" >Tumor</text>
<text x="827.21" y="1084.90" font-family='"Liberation Sans", sans-serif' font-size="19.33" fill="#000">***</text>
<line x1="801.25" y1="1085.75" x2="875.00" y2="1085.75" stroke="#000" stroke-width="1.5" />
<path d="M800 1180V1266.25M788 1180H812.5M788 1266.25H812.5" stroke="#0A4D62" stroke-width="1.5" fill="none"/>
<circle cx="800.0" cy="1183.0" r="4.3" fill="#0A4D62"/>
<circle cx="786.8" cy="1197.5" r="4.3" fill="#0A4D62"/>
<circle cx="813.8" cy="1197.5" r="4.3" fill="#0A4D62"/>
<circle cx="800.0" cy="1208.8" r="4.3" fill="#0A4D62"/>
<circle cx="807.0" cy="1211.2" r="4.3" fill="#0A4D62"/>
<circle cx="793.2" cy="1224.2" r="4.3" fill="#0A4D62"/>
<circle cx="800.0" cy="1245.8" r="4.3" fill="#0A4D62"/>
<circle cx="800.0" cy="1320.0" r="4.3" fill="#0A4D62"/>
<line x1="775.00" y1="1223.25" x2="825.00" y2="1223.25" stroke="#000" stroke-width="1.5" />
<path d="M858 1216H892V1318H858Z" fill="#FF6400"/>
<rect x="870.0" y="1155.7" width="9.2" height="9.2" fill="#FF6400"/>
<rect x="876.9" y="1189.7" width="9.2" height="9.2" fill="#FF6400"/>
<rect x="863.3" y="1193.8" width="9.2" height="9.2" fill="#FF6400"/>
<rect x="849.9" y="1202.2" width="9.2" height="9.2" fill="#FF6400"/>
<rect x="855.0" y="1205.0" width="9.2" height="9.2" fill="#FF6400"/>
<rect x="860.0" y="1207.8" width="9.2" height="9.2" fill="#FF6400"/>
<rect x="865.1" y="1210.6" width="9.2" height="9.2" fill="#FF6400"/>
<rect x="870.2" y="1213.4" width="9.2" height="9.2" fill="#FF6400"/>
<rect x="875.3" y="1210.6" width="9.2" height="9.2" fill="#FF6400"/>
<rect x="880.3" y="1207.8" width="9.2" height="9.2" fill="#FF6400"/>
<rect x="885.4" y="1205.0" width="9.2" height="9.2" fill="#FF6400"/>
<rect x="890.5" y="1202.2" width="9.2" height="9.2" fill="#FF6400"/>
<rect x="855.7" y="1211.7" width="9.2" height="9.2" fill="#FF6400"/>
<rect x="860.5" y="1214.1" width="9.2" height="9.2" fill="#FF6400"/>
<rect x="865.4" y="1216.5" width="9.2" height="9.2" fill="#FF6400"/>
<rect x="870.2" y="1218.9" width="9.2" height="9.2" fill="#FF6400"/>
<rect x="875.0" y="1216.5" width="9.2" height="9.2" fill="#FF6400"/>
<rect x="879.9" y="1214.1" width="9.2" height="9.2" fill="#FF6400"/>
<rect x="884.7" y="1211.7" width="9.2" height="9.2" fill="#FF6400"/>
<rect x="849.9" y="1217.2" width="9.2" height="9.2" fill="#FF6400"/>
<rect x="855.0" y="1220.0" width="9.2" height="9.2" fill="#FF6400"/>
<rect x="860.0" y="1222.8" width="9.2" height="9.2" fill="#FF6400"/>
<rect x="865.1" y="1225.6" width="9.2" height="9.2" fill="#FF6400"/>
<rect x="870.2" y="1228.4" width="9.2" height="9.2" fill="#FF6400"/>
<rect x="875.3" y="1225.6" width="9.2" height="9.2" fill="#FF6400"/>
<rect x="880.3" y="1222.8" width="9.2" height="9.2" fill="#FF6400"/>
<rect x="885.4" y="1220.0" width="9.2" height="9.2" fill="#FF6400"/>
<rect x="890.5" y="1217.2" width="9.2" height="9.2" fill="#FF6400"/>
<rect x="855.7" y="1226.7" width="9.2" height="9.2" fill="#FF6400"/>
<rect x="860.5" y="1229.1" width="9.2" height="9.2" fill="#FF6400"/>
<rect x="865.4" y="1231.5" width="9.2" height="9.2" fill="#FF6400"/>
<rect x="870.2" y="1233.9" width="9.2" height="9.2" fill="#FF6400"/>
<rect x="875.0" y="1231.5" width="9.2" height="9.2" fill="#FF6400"/>
<rect x="879.9" y="1229.1" width="9.2" height="9.2" fill="#FF6400"/>
<rect x="884.7" y="1226.7" width="9.2" height="9.2" fill="#FF6400"/>
<rect x="849.9" y="1231.7" width="9.2" height="9.2" fill="#FF6400"/>
<rect x="855.0" y="1234.5" width="9.2" height="9.2" fill="#FF6400"/>
<rect x="860.0" y="1237.3" width="9.2" height="9.2" fill="#FF6400"/>
<rect x="865.1" y="1240.1" width="9.2" height="9.2" fill="#FF6400"/>
<rect x="870.2" y="1242.9" width="9.2" height="9.2" fill="#FF6400"/>
<rect x="875.3" y="1240.1" width="9.2" height="9.2" fill="#FF6400"/>
<rect x="880.3" y="1237.3" width="9.2" height="9.2" fill="#FF6400"/>
<rect x="885.4" y="1234.5" width="9.2" height="9.2" fill="#FF6400"/>
<rect x="890.5" y="1231.7" width="9.2" height="9.2" fill="#FF6400"/>
<rect x="855.7" y="1241.2" width="9.2" height="9.2" fill="#FF6400"/>
<rect x="860.5" y="1243.6" width="9.2" height="9.2" fill="#FF6400"/>
<rect x="865.4" y="1246.0" width="9.2" height="9.2" fill="#FF6400"/>
<rect x="870.2" y="1248.4" width="9.2" height="9.2" fill="#FF6400"/>
<rect x="875.0" y="1246.0" width="9.2" height="9.2" fill="#FF6400"/>
<rect x="879.9" y="1243.6" width="9.2" height="9.2" fill="#FF6400"/>
<rect x="884.7" y="1241.2" width="9.2" height="9.2" fill="#FF6400"/>
<rect x="849.9" y="1261.7" width="9.2" height="9.2" fill="#FF6400"/>
<rect x="855.0" y="1264.5" width="9.2" height="9.2" fill="#FF6400"/>
<rect x="860.0" y="1267.3" width="9.2" height="9.2" fill="#FF6400"/>
<rect x="865.1" y="1270.1" width="9.2" height="9.2" fill="#FF6400"/>
<rect x="870.2" y="1272.9" width="9.2" height="9.2" fill="#FF6400"/>
<rect x="875.3" y="1270.1" width="9.2" height="9.2" fill="#FF6400"/>
<rect x="880.3" y="1267.3" width="9.2" height="9.2" fill="#FF6400"/>
<rect x="885.4" y="1264.5" width="9.2" height="9.2" fill="#FF6400"/>
<rect x="890.5" y="1261.7" width="9.2" height="9.2" fill="#FF6400"/>
<rect x="855.7" y="1271.2" width="9.2" height="9.2" fill="#FF6400"/>
<rect x="860.5" y="1273.6" width="9.2" height="9.2" fill="#FF6400"/>
<rect x="865.4" y="1276.0" width="9.2" height="9.2" fill="#FF6400"/>
<rect x="870.2" y="1278.4" width="9.2" height="9.2" fill="#FF6400"/>
<rect x="875.0" y="1276.0" width="9.2" height="9.2" fill="#FF6400"/>
<rect x="879.9" y="1273.6" width="9.2" height="9.2" fill="#FF6400"/>
<rect x="884.7" y="1271.2" width="9.2" height="9.2" fill="#FF6400"/>
<rect x="849.9" y="1275.2" width="9.2" height="9.2" fill="#FF6400"/>
<rect x="855.0" y="1278.0" width="9.2" height="9.2" fill="#FF6400"/>
<rect x="860.0" y="1280.8" width="9.2" height="9.2" fill="#FF6400"/>
<rect x="865.1" y="1283.6" width="9.2" height="9.2" fill="#FF6400"/>
<rect x="870.2" y="1286.4" width="9.2" height="9.2" fill="#FF6400"/>
<rect x="875.3" y="1283.6" width="9.2" height="9.2" fill="#FF6400"/>
<rect x="880.3" y="1280.8" width="9.2" height="9.2" fill="#FF6400"/>
<rect x="885.4" y="1278.0" width="9.2" height="9.2" fill="#FF6400"/>
<rect x="890.5" y="1275.2" width="9.2" height="9.2" fill="#FF6400"/>
<rect x="855.7" y="1284.7" width="9.2" height="9.2" fill="#FF6400"/>
<rect x="860.5" y="1287.1" width="9.2" height="9.2" fill="#FF6400"/>
<rect x="865.4" y="1289.5" width="9.2" height="9.2" fill="#FF6400"/>
<rect x="870.2" y="1291.9" width="9.2" height="9.2" fill="#FF6400"/>
<rect x="875.0" y="1289.5" width="9.2" height="9.2" fill="#FF6400"/>
<rect x="879.9" y="1287.1" width="9.2" height="9.2" fill="#FF6400"/>
<rect x="884.7" y="1284.7" width="9.2" height="9.2" fill="#FF6400"/>
<rect x="849.9" y="1287.6" width="9.2" height="9.2" fill="#FF6400"/>
<rect x="855.0" y="1290.4" width="9.2" height="9.2" fill="#FF6400"/>
<rect x="860.0" y="1293.2" width="9.2" height="9.2" fill="#FF6400"/>
<rect x="865.1" y="1296.0" width="9.2" height="9.2" fill="#FF6400"/>
<rect x="870.2" y="1298.8" width="9.2" height="9.2" fill="#FF6400"/>
<rect x="875.3" y="1296.0" width="9.2" height="9.2" fill="#FF6400"/>
<rect x="880.3" y="1293.2" width="9.2" height="9.2" fill="#FF6400"/>
<rect x="885.4" y="1290.4" width="9.2" height="9.2" fill="#FF6400"/>
<rect x="890.5" y="1287.6" width="9.2" height="9.2" fill="#FF6400"/>
<rect x="855.7" y="1297.1" width="9.2" height="9.2" fill="#FF6400"/>
<rect x="860.5" y="1299.5" width="9.2" height="9.2" fill="#FF6400"/>
<rect x="865.4" y="1301.9" width="9.2" height="9.2" fill="#FF6400"/>
<rect x="870.2" y="1304.3" width="9.2" height="9.2" fill="#FF6400"/>
<rect x="875.0" y="1301.9" width="9.2" height="9.2" fill="#FF6400"/>
<rect x="879.9" y="1299.5" width="9.2" height="9.2" fill="#FF6400"/>
<rect x="884.7" y="1297.1" width="9.2" height="9.2" fill="#FF6400"/>
<rect x="849.9" y="1302.9" width="9.2" height="9.2" fill="#FF6400"/>
<rect x="855.0" y="1305.7" width="9.2" height="9.2" fill="#FF6400"/>
<rect x="860.0" y="1308.5" width="9.2" height="9.2" fill="#FF6400"/>
<rect x="865.1" y="1311.3" width="9.2" height="9.2" fill="#FF6400"/>
<rect x="870.2" y="1314.1" width="9.2" height="9.2" fill="#FF6400"/>
<rect x="875.3" y="1311.3" width="9.2" height="9.2" fill="#FF6400"/>
<rect x="880.3" y="1308.5" width="9.2" height="9.2" fill="#FF6400"/>
<rect x="885.4" y="1305.7" width="9.2" height="9.2" fill="#FF6400"/>
<rect x="890.5" y="1302.9" width="9.2" height="9.2" fill="#FF6400"/>
<rect x="855.7" y="1312.4" width="9.2" height="9.2" fill="#FF6400"/>
<rect x="860.5" y="1314.8" width="9.2" height="9.2" fill="#FF6400"/>
<rect x="865.4" y="1317.2" width="9.2" height="9.2" fill="#FF6400"/>
<rect x="870.2" y="1319.6" width="9.2" height="9.2" fill="#FF6400"/>
<rect x="875.0" y="1317.2" width="9.2" height="9.2" fill="#FF6400"/>
<rect x="879.9" y="1314.8" width="9.2" height="9.2" fill="#FF6400"/>
<rect x="884.7" y="1312.4" width="9.2" height="9.2" fill="#FF6400"/>
<rect x="849.9" y="1316.5" width="9.2" height="9.2" fill="#FF6400"/>
<rect x="855.0" y="1319.3" width="9.2" height="9.2" fill="#FF6400"/>
<rect x="860.0" y="1322.1" width="9.2" height="9.2" fill="#FF6400"/>
<rect x="865.1" y="1324.9" width="9.2" height="9.2" fill="#FF6400"/>
<rect x="870.2" y="1327.7" width="9.2" height="9.2" fill="#FF6400"/>
<rect x="875.3" y="1324.9" width="9.2" height="9.2" fill="#FF6400"/>
<rect x="880.3" y="1322.1" width="9.2" height="9.2" fill="#FF6400"/>
<rect x="885.4" y="1319.3" width="9.2" height="9.2" fill="#FF6400"/>
<rect x="890.5" y="1316.5" width="9.2" height="9.2" fill="#FF6400"/>
<rect x="854.7" y="1247.7" width="9.2" height="9.2" fill="#FF6400"/>
<rect x="859.9" y="1250.2" width="9.2" height="9.2" fill="#FF6400"/>
<rect x="865.0" y="1252.8" width="9.2" height="9.2" fill="#FF6400"/>
<rect x="870.2" y="1255.4" width="9.2" height="9.2" fill="#FF6400"/>
<rect x="875.4" y="1252.8" width="9.2" height="9.2" fill="#FF6400"/>
<rect x="880.5" y="1250.2" width="9.2" height="9.2" fill="#FF6400"/>
<rect x="885.7" y="1247.7" width="9.2" height="9.2" fill="#FF6400"/>
<rect x="851.9" y="1332.3" width="9.2" height="9.2" fill="#FF6400"/>
<rect x="856.5" y="1334.9" width="9.2" height="9.2" fill="#FF6400"/>
<rect x="861.0" y="1337.4" width="9.2" height="9.2" fill="#FF6400"/>
<rect x="865.6" y="1339.9" width="9.2" height="9.2" fill="#FF6400"/>
<rect x="870.2" y="1342.4" width="9.2" height="9.2" fill="#FF6400"/>
<rect x="874.8" y="1339.9" width="9.2" height="9.2" fill="#FF6400"/>
<rect x="879.3" y="1337.4" width="9.2" height="9.2" fill="#FF6400"/>
<rect x="883.9" y="1334.9" width="9.2" height="9.2" fill="#FF6400"/>
<rect x="888.5" y="1332.3" width="9.2" height="9.2" fill="#FF6400"/>
<rect x="849.8" y="1347.8" width="9.2" height="9.2" fill="#FF6400"/>
<rect x="857.8" y="1353.2" width="9.2" height="9.2" fill="#FF6400"/>
<rect x="866.4" y="1358.7" width="9.2" height="9.2" fill="#FF6400"/>
<rect x="874.2" y="1361.0" width="9.2" height="9.2" fill="#FF6400"/>
<rect x="890.6" y="1351.9" width="9.2" height="9.2" fill="#FF6400"/>
<rect x="882.0" y="1357.9" width="9.2" height="9.2" fill="#FF6400"/>
<rect x="860.9" y="1342.3" width="9.2" height="9.2" fill="#FF6400"/>
<rect x="872.2" y="1344.6" width="9.2" height="9.2" fill="#FF6400"/>
<rect x="883.8" y="1341.5" width="9.2" height="9.2" fill="#FF6400"/>
<rect x="852.1" y="1368.6" width="9.2" height="9.2" fill="#FF6400"/>
<rect x="856.6" y="1373.9" width="9.2" height="9.2" fill="#FF6400"/>
<rect x="861.4" y="1378.6" width="9.2" height="9.2" fill="#FF6400"/>
<rect x="867.4" y="1380.9" width="9.2" height="9.2" fill="#FF6400"/>
<rect x="873.4" y="1380.9" width="9.2" height="9.2" fill="#FF6400"/>
<rect x="888.4" y="1371.4" width="9.2" height="9.2" fill="#FF6400"/>
<rect x="883.6" y="1374.3" width="9.2" height="9.2" fill="#FF6400"/>
<rect x="878.9" y="1378.6" width="9.2" height="9.2" fill="#FF6400"/>
<g fill="#fff"><rect x="872" y="1219" width="3.5" height="9"/><rect x="872" y="1237" width="5" height="4.5"/><path d="M861 1230l3 4-2.5 0zM886 1232l3-3 0 2.5zM866.5 1294.5l8.5 5.5 7.5-5.5-7.5 3.5z"/></g>
<line x1="850.00" y1="1284.50" x2="899.50" y2="1284.50" stroke="#000" stroke-width="1.6" />
<line x1="1043.75" y1="1087.20" x2="1043.75" y2="1392.60" stroke="#000" stroke-width="1.6" />
<line x1="1035.75" y1="1391.80" x2="1193.75" y2="1391.80" stroke="#000" stroke-width="1.6" />
<line x1="1035.75" y1="1088.00" x2="1043.75" y2="1088.00" stroke="#000" stroke-width="1.6" />
<line x1="1035.75" y1="1163.90" x2="1043.75" y2="1163.90" stroke="#000" stroke-width="1.6" />
<line x1="1035.75" y1="1239.90" x2="1043.75" y2="1239.90" stroke="#000" stroke-width="1.6" />
<line x1="1035.75" y1="1315.90" x2="1043.75" y2="1315.90" stroke="#000" stroke-width="1.6" />
<line x1="1081.25" y1="1391.80" x2="1081.25" y2="1400.00" stroke="#000" stroke-width="1.6" />
<line x1="1155.50" y1="1391.80" x2="1155.50" y2="1400.00" stroke="#000" stroke-width="1.6" />
<text transform="translate(1002.74 1095.20) scale(0.9570 1)" font-family='"Liberation Sans", sans-serif' font-size="22.00" font-weight="bold" stroke="#000" stroke-width="0.3" stroke-linejoin="round" fill="#000" >2.0</text>
<text transform="translate(1002.53 1171.10) scale(0.9570 1)" font-family='"Liberation Sans", sans-serif' font-size="22.00" font-weight="bold" stroke="#000" stroke-width="0.3" stroke-linejoin="round" fill="#000" >1.5</text>
<text transform="translate(1002.74 1247.10) scale(0.9570 1)" font-family='"Liberation Sans", sans-serif' font-size="22.00" font-weight="bold" stroke="#000" stroke-width="0.3" stroke-linejoin="round" fill="#000" >1.0</text>
<text transform="translate(1002.53 1323.10) scale(0.9570 1)" font-family='"Liberation Sans", sans-serif' font-size="22.00" font-weight="bold" stroke="#000" stroke-width="0.3" stroke-linejoin="round" fill="#000" >0.5</text>
<text transform="translate(1002.74 1399.00) scale(0.9570 1)" font-family='"Liberation Sans", sans-serif' font-size="22.00" font-weight="bold" stroke="#000" stroke-width="0.3" stroke-linejoin="round" fill="#000" >0.0</text>
<text transform="translate(989.80 1402.42) rotate(-90) scale(1.0164 1)" font-family='"Liberation Sans", sans-serif' font-size="29.10" font-weight="bold" stroke="#000" stroke-width="0.35" stroke-linejoin="round" fill="#000">MiR-539-5p expression</text>
<text transform="translate(1044.88 1421.75) scale(1.0317 1)" font-family='"Liberation Sans", sans-serif' font-size="20.48" font-weight="bold" fill="#000" >Normal</text>
<text transform="translate(1123.54 1421.75) scale(1.0313 1)" font-family='"Liberation Sans", sans-serif' font-size="20.36" font-weight="bold" fill="#000" >Tumor</text>
<text x="1108.47" y="1097.07" font-family='"Liberation Sans", sans-serif' font-size="18.67" fill="#000">***</text>
<line x1="1082.00" y1="1098.75" x2="1155.50" y2="1098.75" stroke="#000" stroke-width="1.5" />
<line x1="1081.10" y1="1212.00" x2="1081.10" y2="1268.00" stroke="#0A4D62" stroke-width="1.2" />
<circle cx="1067.3" cy="1172.1" r="4.3" fill="#0A4D62"/>
<circle cx="1081.0" cy="1174.3" r="4.3" fill="#0A4D62"/>
<circle cx="1094.6" cy="1173.1" r="4.3" fill="#0A4D62"/>
<circle cx="1099.7" cy="1179.9" r="4.3" fill="#0A4D62"/>
<circle cx="1062.6" cy="1181.9" r="4.3" fill="#0A4D62"/>
<circle cx="1090.0" cy="1183.4" r="4.3" fill="#0A4D62"/>
<circle cx="1071.9" cy="1187.2" r="4.3" fill="#0A4D62"/>
<circle cx="1081.0" cy="1192.4" r="4.3" fill="#0A4D62"/>
<circle cx="1081.0" cy="1314.0" r="4.3" fill="#0A4D62"/>
<circle cx="1062.6" cy="1264.4" r="4.3" fill="#0A4D62"/>
<circle cx="1067.3" cy="1266.8" r="4.3" fill="#0A4D62"/>
<circle cx="1074.3" cy="1271.1" r="4.3" fill="#0A4D62"/>
<circle cx="1081.0" cy="1278.1" r="4.3" fill="#0A4D62"/>
<circle cx="1086.8" cy="1274.2" r="4.3" fill="#0A4D62"/>
<circle cx="1093.1" cy="1269.5" r="4.3" fill="#0A4D62"/>
<circle cx="1099.3" cy="1265.2" r="4.3" fill="#0A4D62"/>
<circle cx="1060.7" cy="1281.6" r="4.3" fill="#0A4D62"/>
<circle cx="1068.9" cy="1286.3" r="4.3" fill="#0A4D62"/>
<circle cx="1077.1" cy="1289.8" r="4.3" fill="#0A4D62"/>
<circle cx="1085.1" cy="1293.3" r="4.3" fill="#0A4D62"/>
<circle cx="1093.5" cy="1287.9" r="4.3" fill="#0A4D62"/>
<circle cx="1101.7" cy="1283.2" r="4.3" fill="#0A4D62"/>
<circle cx="1062.5" cy="1204.5" r="4.3" fill="#0A4D62"/>
<circle cx="1066.2" cy="1206.5" r="4.3" fill="#0A4D62"/>
<circle cx="1069.9" cy="1208.5" r="4.3" fill="#0A4D62"/>
<circle cx="1073.6" cy="1210.6" r="4.3" fill="#0A4D62"/>
<circle cx="1077.3" cy="1212.6" r="4.3" fill="#0A4D62"/>
<circle cx="1081.0" cy="1214.6" r="4.3" fill="#0A4D62"/>
<circle cx="1084.7" cy="1212.6" r="4.3" fill="#0A4D62"/>
<circle cx="1088.4" cy="1210.6" r="4.3" fill="#0A4D62"/>
<circle cx="1092.1" cy="1208.5" r="4.3" fill="#0A4D62"/>
<circle cx="1095.8" cy="1206.5" r="4.3" fill="#0A4D62"/>
<circle cx="1099.5" cy="1204.5" r="4.3" fill="#0A4D62"/>
<circle cx="1063.0" cy="1218.5" r="4.3" fill="#0A4D62"/>
<circle cx="1066.6" cy="1220.6" r="4.3" fill="#0A4D62"/>
<circle cx="1070.2" cy="1222.7" r="4.3" fill="#0A4D62"/>
<circle cx="1073.8" cy="1224.8" r="4.3" fill="#0A4D62"/>
<circle cx="1077.4" cy="1226.9" r="4.3" fill="#0A4D62"/>
<circle cx="1081.0" cy="1229.0" r="4.3" fill="#0A4D62"/>
<circle cx="1084.6" cy="1226.9" r="4.3" fill="#0A4D62"/>
<circle cx="1088.2" cy="1224.8" r="4.3" fill="#0A4D62"/>
<circle cx="1091.8" cy="1222.7" r="4.3" fill="#0A4D62"/>
<circle cx="1095.4" cy="1220.6" r="4.3" fill="#0A4D62"/>
<circle cx="1099.0" cy="1218.5" r="4.3" fill="#0A4D62"/>
<circle cx="1068.0" cy="1222.0" r="4.3" fill="#0A4D62"/>
<circle cx="1072.3" cy="1225.3" r="4.3" fill="#0A4D62"/>
<circle cx="1076.7" cy="1228.7" r="4.3" fill="#0A4D62"/>
<circle cx="1081.0" cy="1232.0" r="4.3" fill="#0A4D62"/>
<circle cx="1085.3" cy="1228.7" r="4.3" fill="#0A4D62"/>
<circle cx="1089.7" cy="1225.3" r="4.3" fill="#0A4D62"/>
<circle cx="1094.0" cy="1222.0" r="4.3" fill="#0A4D62"/>
<circle cx="1063.0" cy="1234.5" r="4.3" fill="#0A4D62"/>
<circle cx="1066.6" cy="1236.3" r="4.3" fill="#0A4D62"/>
<circle cx="1070.2" cy="1238.1" r="4.3" fill="#0A4D62"/>
<circle cx="1073.8" cy="1239.9" r="4.3" fill="#0A4D62"/>
<circle cx="1077.4" cy="1241.7" r="4.3" fill="#0A4D62"/>
<circle cx="1081.0" cy="1243.5" r="4.3" fill="#0A4D62"/>
<circle cx="1084.6" cy="1241.7" r="4.3" fill="#0A4D62"/>
<circle cx="1088.2" cy="1239.9" r="4.3" fill="#0A4D62"/>
<circle cx="1091.8" cy="1238.1" r="4.3" fill="#0A4D62"/>
<circle cx="1095.4" cy="1236.3" r="4.3" fill="#0A4D62"/>
<circle cx="1099.0" cy="1234.5" r="4.3" fill="#0A4D62"/>
<circle cx="1060.4" cy="1250.0" r="4.3" fill="#0A4D62"/>
<circle cx="1063.8" cy="1251.7" r="4.3" fill="#0A4D62"/>
<circle cx="1067.3" cy="1253.3" r="4.3" fill="#0A4D62"/>
<circle cx="1070.7" cy="1255.0" r="4.3" fill="#0A4D62"/>
<circle cx="1074.1" cy="1256.7" r="4.3" fill="#0A4D62"/>
<circle cx="1077.6" cy="1258.3" r="4.3" fill="#0A4D62"/>
<circle cx="1081.0" cy="1260.0" r="4.3" fill="#0A4D62"/>
<circle cx="1084.4" cy="1258.3" r="4.3" fill="#0A4D62"/>
<circle cx="1087.9" cy="1256.7" r="4.3" fill="#0A4D62"/>
<circle cx="1091.3" cy="1255.0" r="4.3" fill="#0A4D62"/>
<circle cx="1094.7" cy="1253.3" r="4.3" fill="#0A4D62"/>
<circle cx="1098.2" cy="1251.7" r="4.3" fill="#0A4D62"/>
<circle cx="1101.6" cy="1250.0" r="4.3" fill="#0A4D62"/>
<circle cx="1067.0" cy="1254.0" r="4.3" fill="#0A4D62"/>
<circle cx="1070.5" cy="1256.5" r="4.3" fill="#0A4D62"/>
<circle cx="1074.0" cy="1259.0" r="4.3" fill="#0A4D62"/>
<circle cx="1077.5" cy="1261.5" r="4.3" fill="#0A4D62"/>
<circle cx="1081.0" cy="1264.0" r="4.3" fill="#0A4D62"/>
<circle cx="1084.5" cy="1261.5" r="4.3" fill="#0A4D62"/>
<circle cx="1088.0" cy="1259.0" r="4.3" fill="#0A4D62"/>
<circle cx="1091.5" cy="1256.5" r="4.3" fill="#0A4D62"/>
<circle cx="1095.0" cy="1254.0" r="4.3" fill="#0A4D62"/>
<line x1="1056.00" y1="1239.70" x2="1106.00" y2="1239.70" stroke="#000" stroke-width="1.6" />
<rect x="1151.1" y="1191.0" width="9.2" height="9.2" fill="#FF6400"/>
<rect x="1151.1" y="1224.6" width="9.2" height="9.2" fill="#FF6400"/>
<rect x="1137.4" y="1230.0" width="9.2" height="9.2" fill="#FF6400"/>
<rect x="1151.1" y="1241.6" width="9.2" height="9.2" fill="#FF6400"/>
<rect x="1164.9" y="1241.4" width="9.2" height="9.2" fill="#FF6400"/>
<rect x="1131.9" y="1251.7" width="9.2" height="9.2" fill="#FF6400"/>
<rect x="1144.4" y="1257.8" width="9.2" height="9.2" fill="#FF6400"/>
<rect x="1170.2" y="1257.0" width="9.2" height="9.2" fill="#FF6400"/>
<rect x="1157.3" y="1259.7" width="9.2" height="9.2" fill="#FF6400"/>
<rect x="1131.9" y="1373.0" width="9.2" height="9.2" fill="#FF6400"/>
<rect x="1144.8" y="1380.8" width="9.2" height="9.2" fill="#FF6400"/>
<rect x="1157.3" y="1375.6" width="9.2" height="9.2" fill="#FF6400"/>
<rect x="1170.0" y="1367.5" width="9.2" height="9.2" fill="#FF6400"/>
<rect x="1150.9" y="1351.3" width="9.2" height="9.2" fill="#FF6400"/>
<rect x="1132.8" y="1263.4" width="9.2" height="9.2" fill="#FF6400"/>
<rect x="1137.3" y="1266.0" width="9.2" height="9.2" fill="#FF6400"/>
<rect x="1141.9" y="1268.6" width="9.2" height="9.2" fill="#FF6400"/>
<rect x="1146.5" y="1271.2" width="9.2" height="9.2" fill="#FF6400"/>
<rect x="1151.0" y="1273.8" width="9.2" height="9.2" fill="#FF6400"/>
<rect x="1155.5" y="1271.2" width="9.2" height="9.2" fill="#FF6400"/>
<rect x="1160.1" y="1268.6" width="9.2" height="9.2" fill="#FF6400"/>
<rect x="1164.7" y="1266.0" width="9.2" height="9.2" fill="#FF6400"/>
<rect x="1169.2" y="1263.4" width="9.2" height="9.2" fill="#FF6400"/>
<rect x="1139.0" y="1267.4" width="9.2" height="9.2" fill="#FF6400"/>
<rect x="1143.0" y="1270.4" width="9.2" height="9.2" fill="#FF6400"/>
<rect x="1147.0" y="1273.4" width="9.2" height="9.2" fill="#FF6400"/>
<rect x="1151.0" y="1276.4" width="9.2" height="9.2" fill="#FF6400"/>
<rect x="1155.0" y="1273.4" width="9.2" height="9.2" fill="#FF6400"/>
<rect x="1159.0" y="1270.4" width="9.2" height="9.2" fill="#FF6400"/>
<rect x="1163.0" y="1267.4" width="9.2" height="9.2" fill="#FF6400"/>
<rect x="1133.0" y="1280.4" width="9.2" height="9.2" fill="#FF6400"/>
<rect x="1137.5" y="1282.7" width="9.2" height="9.2" fill="#FF6400"/>
<rect x="1142.0" y="1284.9" width="9.2" height="9.2" fill="#FF6400"/>
<rect x="1146.5" y="1287.2" width="9.2" height="9.2" fill="#FF6400"/>
<rect x="1151.0" y="1289.4" width="9.2" height="9.2" fill="#FF6400"/>
<rect x="1155.5" y="1287.2" width="9.2" height="9.2" fill="#FF6400"/>
<rect x="1160.0" y="1284.9" width="9.2" height="9.2" fill="#FF6400"/>
<rect x="1164.5" y="1282.7" width="9.2" height="9.2" fill="#FF6400"/>
<rect x="1169.0" y="1280.4" width="9.2" height="9.2" fill="#FF6400"/>
<rect x="1139.0" y="1285.4" width="9.2" height="9.2" fill="#FF6400"/>
<rect x="1143.0" y="1288.1" width="9.2" height="9.2" fill="#FF6400"/>
<rect x="1147.0" y="1290.7" width="9.2" height="9.2" fill="#FF6400"/>
<rect x="1151.0" y="1293.4" width="9.2" height="9.2" fill="#FF6400"/>
<rect x="1155.0" y="1290.7" width="9.2" height="9.2" fill="#FF6400"/>
<rect x="1159.0" y="1288.1" width="9.2" height="9.2" fill="#FF6400"/>
<rect x="1163.0" y="1285.4" width="9.2" height="9.2" fill="#FF6400"/>
<rect x="1131.0" y="1295.4" width="9.2" height="9.2" fill="#FF6400"/>
<rect x="1136.0" y="1295.8" width="9.2" height="9.2" fill="#FF6400"/>
<rect x="1141.0" y="1296.2" width="9.2" height="9.2" fill="#FF6400"/>
<rect x="1146.0" y="1296.5" width="9.2" height="9.2" fill="#FF6400"/>
<rect x="1151.0" y="1296.9" width="9.2" height="9.2" fill="#FF6400"/>
<rect x="1156.0" y="1296.5" width="9.2" height="9.2" fill="#FF6400"/>
<rect x="1161.0" y="1296.2" width="9.2" height="9.2" fill="#FF6400"/>
<rect x="1166.0" y="1295.8" width="9.2" height="9.2" fill="#FF6400"/>
<rect x="1171.0" y="1295.4" width="9.2" height="9.2" fill="#FF6400"/>
<rect x="1139.0" y="1300.4" width="9.2" height="9.2" fill="#FF6400"/>
<rect x="1143.0" y="1302.7" width="9.2" height="9.2" fill="#FF6400"/>
<rect x="1147.0" y="1305.1" width="9.2" height="9.2" fill="#FF6400"/>
<rect x="1151.0" y="1307.4" width="9.2" height="9.2" fill="#FF6400"/>
<rect x="1155.0" y="1305.1" width="9.2" height="9.2" fill="#FF6400"/>
<rect x="1159.0" y="1302.7" width="9.2" height="9.2" fill="#FF6400"/>
<rect x="1163.0" y="1300.4" width="9.2" height="9.2" fill="#FF6400"/>
<rect x="1134.8" y="1309.1" width="9.2" height="9.2" fill="#FF6400"/>
<rect x="1138.8" y="1311.7" width="9.2" height="9.2" fill="#FF6400"/>
<rect x="1142.9" y="1314.2" width="9.2" height="9.2" fill="#FF6400"/>
<rect x="1147.0" y="1316.8" width="9.2" height="9.2" fill="#FF6400"/>
<rect x="1151.0" y="1319.4" width="9.2" height="9.2" fill="#FF6400"/>
<rect x="1155.0" y="1316.8" width="9.2" height="9.2" fill="#FF6400"/>
<rect x="1159.1" y="1314.2" width="9.2" height="9.2" fill="#FF6400"/>
<rect x="1163.2" y="1311.7" width="9.2" height="9.2" fill="#FF6400"/>
<rect x="1167.2" y="1309.1" width="9.2" height="9.2" fill="#FF6400"/>
<rect x="1143.0" y="1315.4" width="9.2" height="9.2" fill="#FF6400"/>
<rect x="1147.0" y="1318.9" width="9.2" height="9.2" fill="#FF6400"/>
<rect x="1151.0" y="1322.4" width="9.2" height="9.2" fill="#FF6400"/>
<rect x="1155.0" y="1318.9" width="9.2" height="9.2" fill="#FF6400"/>
<rect x="1159.0" y="1315.4" width="9.2" height="9.2" fill="#FF6400"/>
<rect x="1143.0" y="1325.4" width="9.2" height="9.2" fill="#FF6400"/>
<rect x="1147.0" y="1326.9" width="9.2" height="9.2" fill="#FF6400"/>
<rect x="1151.0" y="1328.4" width="9.2" height="9.2" fill="#FF6400"/>
<rect x="1155.0" y="1326.9" width="9.2" height="9.2" fill="#FF6400"/>
<rect x="1159.0" y="1325.4" width="9.2" height="9.2" fill="#FF6400"/>
<rect x="1135.7" y="1331.4" width="9.2" height="9.2" fill="#FF6400"/>
<rect x="1140.8" y="1332.7" width="9.2" height="9.2" fill="#FF6400"/>
<rect x="1145.9" y="1334.1" width="9.2" height="9.2" fill="#FF6400"/>
<rect x="1151.0" y="1335.4" width="9.2" height="9.2" fill="#FF6400"/>
<rect x="1156.1" y="1334.1" width="9.2" height="9.2" fill="#FF6400"/>
<rect x="1161.2" y="1332.7" width="9.2" height="9.2" fill="#FF6400"/>
<rect x="1166.3" y="1331.4" width="9.2" height="9.2" fill="#FF6400"/>
<rect x="1132.7" y="1341.4" width="9.2" height="9.2" fill="#FF6400"/>
<rect x="1137.3" y="1342.2" width="9.2" height="9.2" fill="#FF6400"/>
<rect x="1141.8" y="1342.9" width="9.2" height="9.2" fill="#FF6400"/>
<rect x="1146.4" y="1343.7" width="9.2" height="9.2" fill="#FF6400"/>
<rect x="1151.0" y="1344.4" width="9.2" height="9.2" fill="#FF6400"/>
<rect x="1155.6" y="1343.7" width="9.2" height="9.2" fill="#FF6400"/>
<rect x="1160.2" y="1342.9" width="9.2" height="9.2" fill="#FF6400"/>
<rect x="1164.7" y="1342.2" width="9.2" height="9.2" fill="#FF6400"/>
<rect x="1169.3" y="1341.4" width="9.2" height="9.2" fill="#FF6400"/>
<path d="M1147 1276H1164V1345H1147Z" fill="#FF6400"/>
<line x1="1130.70" y1="1304.40" x2="1180.30" y2="1304.40" stroke="#000" stroke-width="1.6" />
<g fill="#fff"><rect x="1151" y="1347" width="9" height="4.5"/><rect x="1153" y="1331" width="2" height="5"/><rect x="1156.5" y="1331" width="2.5" height="5"/><rect x="1150.5" y="1282.5" width="4" height="5.5"/><rect x="1156" y="1282.5" width="4.5" height="5.5"/><path d="M1146 1312l8.5 6 9-6-9 3.5z"/><rect x="1147.500" y="1270.5" width="6" height="1.5"/></g>
</svg></body></html>
